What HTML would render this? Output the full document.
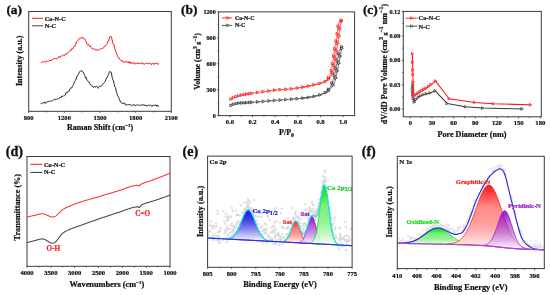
<!DOCTYPE html>
<html><head><meta charset="utf-8"><style>
html,body{margin:0;padding:0;background:#fff;}
svg{display:block;filter:blur(0.4px)}
</style></head><body>
<svg width="550" height="295" viewBox="0 0 550 295" style="font-family:'Liberation Serif',serif;font-weight:bold">
<rect width="550" height="295" fill="#fff"/>
<defs><linearGradient id="pb" x1="0" y1="0" x2="0" y2="1"><stop offset="0" stop-color="#1414e0"/><stop offset="0.35" stop-color="#1414e0" stop-opacity="0.78"/><stop offset="1" stop-color="#ffffff" stop-opacity="0.95"/></linearGradient><linearGradient id="pr" x1="0" y1="0" x2="0" y2="1"><stop offset="0" stop-color="#ff1a1a"/><stop offset="0.35" stop-color="#ff1a1a" stop-opacity="0.55"/><stop offset="1" stop-color="#ffffff" stop-opacity="0.95"/></linearGradient><linearGradient id="pp" x1="0" y1="0" x2="0" y2="1"><stop offset="0" stop-color="#8a18cc"/><stop offset="0.35" stop-color="#8a18cc" stop-opacity="0.68"/><stop offset="1" stop-color="#ffffff" stop-opacity="0.95"/></linearGradient><linearGradient id="pg" x1="0" y1="0" x2="0" y2="1"><stop offset="0" stop-color="#00e000"/><stop offset="0.35" stop-color="#00e000" stop-opacity="0.5"/><stop offset="1" stop-color="#ffffff" stop-opacity="0.95"/></linearGradient><linearGradient id="fg" x1="0" y1="0" x2="0" y2="1"><stop offset="0" stop-color="#00e000"/><stop offset="0.35" stop-color="#00e000" stop-opacity="0.5"/><stop offset="1" stop-color="#ffffff" stop-opacity="0.95"/></linearGradient><linearGradient id="fr" x1="0" y1="0" x2="0" y2="1"><stop offset="0" stop-color="#ff1414"/><stop offset="0.35" stop-color="#ff1414" stop-opacity="0.48"/><stop offset="1" stop-color="#ffffff" stop-opacity="0.95"/></linearGradient><linearGradient id="fp" x1="0" y1="0" x2="0" y2="1"><stop offset="0" stop-color="#9414cc"/><stop offset="0.35" stop-color="#9414cc" stop-opacity="0.58"/><stop offset="1" stop-color="#ffffff" stop-opacity="0.95"/></linearGradient></defs>
<text x="6.4" y="14.25" font-size="13.4" text-anchor="start" fill="#111" stroke="#111" stroke-width="0.35" >(a)</text><rect x="28.7" y="11.5" width="142.6" height="99.8" fill="none" stroke="#3a3a3a" stroke-width="1"/><text x="28.7" y="119.8" font-size="6.6" text-anchor="middle" fill="#111" stroke="#111" stroke-width="0.22" >900</text><text x="64.35" y="119.8" font-size="6.6" text-anchor="middle" fill="#111" stroke="#111" stroke-width="0.22" >1200</text><text x="100" y="119.8" font-size="6.6" text-anchor="middle" fill="#111" stroke="#111" stroke-width="0.22" >1500</text><text x="135.65" y="119.8" font-size="6.6" text-anchor="middle" fill="#111" stroke="#111" stroke-width="0.22" >1800</text><text x="171.3" y="119.8" font-size="6.6" text-anchor="middle" fill="#111" stroke="#111" stroke-width="0.22" >2100</text><path d="M28.7,111.3 v1.6 M64.35,111.3 v1.6 M100,111.3 v1.6 M135.65,111.3 v1.6 M171.3,111.3 v1.6 M46.52,111.3 v1.1199999999999999 M82.17,111.3 v1.1199999999999999 M117.82,111.3 v1.1199999999999999 M153.47,111.3 v1.1199999999999999 " stroke="#3a3a3a" stroke-width="0.8" fill="none"/><text x="100.1" y="130" font-size="8" text-anchor="middle" fill="#111" stroke="#111" stroke-width="0.22" >Raman Shift (cm<tspan font-size="5" dy="-3">&#8722;1</tspan><tspan dy="3">)</tspan></text><text x="0" y="0" font-size="8.1" text-anchor="middle" fill="#111" stroke="#111" stroke-width="0.22" transform="translate(21.6,60.8) rotate(-90)">Intensity (a.u.)</text><path d="M32,18.3 h11" stroke="#ff1414" stroke-width="1"/><path d="M32,25.8 h11" stroke="#444" stroke-width="1"/><text x="44.8" y="20.7" font-size="6.3" text-anchor="start" fill="#111" stroke="#111" stroke-width="0.22" >Co-N-C</text><text x="44.8" y="27.8" font-size="6.3" text-anchor="start" fill="#111" stroke="#111" stroke-width="0.22" >N-C</text><path d="M40.7,62.7 L41.4,62.73 L42.1,62.23 L42.8,61.71 L43.5,61.82 L44.2,61.34 L44.9,61.81 L45.6,62.42 L46.3,61.16 L47,60.93 L47.7,61.44 L48.4,61.2 L49.1,60.9 L49.8,60.13 L50.5,60.52 L51.2,60.8 L51.9,59.42 L52.6,59.78 L53.3,58.73 L54,58.9 L54.7,58.36 L55.4,59.1 L56.1,58.23 L56.8,58.88 L57.5,58.52 L58.2,58.01 L58.9,56.29 L59.6,57.15 L60.3,57.11 L61,56.87 L61.7,55.54 L62.4,55.81 L63.1,55.15 L63.8,54.87 L64.5,55.59 L65.2,54.06 L65.9,54.09 L66.6,54.19 L67.3,52.83 L68,52.61 L68.7,52.19 L69.4,51.55 L70.1,50.13 L70.8,50.24 L71.5,50.32 L72.2,47.88 L72.9,48.6 L73.6,47.37 L74.3,46.02 L75,46.47 L75.7,44.42 L76.4,41.95 L77.1,41.51 L77.8,40.64 L78.5,39.28 L79.2,39.09 L79.9,38.06 L80.6,38.17 L81.3,38.43 L82,37.03 L82.7,37.55 L83.4,37.67 L84.1,38.88 L84.8,38.97 L85.5,40.45 L86.2,41.93 L86.9,43.76 L87.6,44.82 L88.3,44.14 L89,45.22 L89.7,46.79 L90.4,45.84 L91.1,47.31 L91.8,47.98 L92.5,49.14 L93.2,49.12 L93.9,48.81 L94.6,49.06 L95.3,49.37 L96,50.64 L96.7,49.62 L97.4,49.79 L98.1,50.21 L98.8,49.84 L99.5,49.59 L100.2,48.75 L100.9,49.09 L101.6,48.48 L102.3,49.04 L103,48.21 L103.7,47.2 L104.4,46.95 L105.1,45.62 L105.8,45.67 L106.5,44.13 L107.2,43.45 L107.9,41.22 L108.6,41.03 L109.3,38.16 L110,36.23 L110.7,36.34 L111.4,36.85 L112.1,39.8 L112.8,43.24 L113.5,43.65 L114.2,46.12 L114.9,48.85 L115.6,51.03 L116.3,52.62 L117,54.5 L117.7,56.72 L118.4,57.96 L119.1,58.05 L119.8,59.49 L120.5,60.26 L121.2,60.09 L121.9,61.25 L122.6,60.88 L123.3,62.23 L124,61.97 L124.7,62.07 L125.4,61.81 L126.1,62.24 L126.8,61.24 L127.5,61.88 L128.2,62.89 L128.9,61.5 L129.6,63.37 L130.3,61.9 L131,63.47 L131.7,62.57 L132.4,63.6 L133.1,63.26 L133.8,62.3 L134.5,64.01 L135.2,64.17 L135.9,63.3 L136.6,63.21 L137.3,63.31 L138,62.85 L138.7,64.12 L139.4,63.16 L140.1,63.47 L140.8,63.05 L141.5,63.17 L142.2,62.8 L142.9,64.34 L143.6,63.52 L144.3,64.21 L145,63.66 L145.7,63.25 L146.4,63.49 L147.1,63.37 L147.8,63.73 L148.5,63.52 L149.2,63.58 L149.9,62.95 L150.6,63.31 L151.3,64.8 L152,63.42 L152.7,63.2 L153.4,64.05 L154.1,64.7 L154.8,63 L155.5,63.75 L156.2,63.51 L156.9,62.83 L157.6,64.34 L158.3,63.88 L159,63.94" stroke="#ff1414" stroke-width="1.0" fill="none" stroke-linejoin="round"/><path d="M40.7,103.35 L41.4,103.9 L42.1,103.13 L42.8,103.19 L43.5,102.42 L44.2,102.17 L44.9,103.51 L45.6,102.2 L46.3,102.48 L47,102.07 L47.7,101.62 L48.4,101.36 L49.1,101.82 L49.8,101.04 L50.5,100.91 L51.2,100.78 L51.9,101.24 L52.6,100.71 L53.3,100.3 L54,99.5 L54.7,98.77 L55.4,99.92 L56.1,99.68 L56.8,98.76 L57.5,98.9 L58.2,98.76 L58.9,98.49 L59.6,98.23 L60.3,97.08 L61,97.91 L61.7,95.88 L62.4,96.72 L63.1,96.03 L63.8,95.75 L64.5,95.83 L65.2,95.04 L65.9,92.89 L66.6,92 L67.3,92.92 L68,91.22 L68.7,91.18 L69.4,91.01 L70.1,88.78 L70.8,87.68 L71.5,88.16 L72.2,86.89 L72.9,85.46 L73.6,84.34 L74.3,82.47 L75,80.67 L75.7,80.02 L76.4,77.98 L77.1,75.85 L77.8,75.48 L78.5,73.79 L79.2,72.92 L79.9,71.27 L80.6,71.08 L81.3,70.63 L82,70.79 L82.7,72.09 L83.4,72.4 L84.1,74.2 L84.8,75.67 L85.5,78.15 L86.2,77.33 L86.9,79.92 L87.6,80.54 L88.3,81.72 L89,81.9 L89.7,83.41 L90.4,84.87 L91.1,84.97 L91.8,85.64 L92.5,85.97 L93.2,87.35 L93.9,87.09 L94.6,86.14 L95.3,87.31 L96,86.7 L96.7,85.94 L97.4,87.44 L98.1,88.33 L98.8,87.25 L99.5,86.16 L100.2,85.92 L100.9,86.68 L101.6,85.47 L102.3,84.68 L103,83.82 L103.7,83.02 L104.4,82.51 L105.1,81.21 L105.8,79.76 L106.5,77.7 L107.2,77.34 L107.9,75.3 L108.6,74.74 L109.3,71.79 L110,71.53 L110.7,71.83 L111.4,72.83 L112.1,77.16 L112.8,79.39 L113.5,80.92 L114.2,84.55 L114.9,87.07 L115.6,87.68 L116.3,91.73 L117,93.75 L117.7,95.84 L118.4,96.84 L119.1,98.76 L119.8,100.09 L120.5,101.96 L121.2,102.18 L121.9,102.57 L122.6,103.99 L123.3,103.13 L124,103.51 L124.7,102.83 L125.4,105.02 L126.1,104.8 L126.8,104.89 L127.5,104.85 L128.2,104.62 L128.9,104.77 L129.6,104.56 L130.3,104.66 L131,104.87 L131.7,105.79 L132.4,105.26 L133.1,104.93 L133.8,104.65 L134.5,104.64 L135.2,106.01 L135.9,105.38 L136.6,105.14 L137.3,104.92 L138,104.48 L138.7,105.12 L139.4,105.71 L140.1,104.97 L140.8,105.09 L141.5,105.11 L142.2,105.33 L142.9,104.32 L143.6,105.16 L144.3,104.8 L145,105.86 L145.7,104.89 L146.4,105.72 L147.1,106.3 L147.8,105.21 L148.5,105.06 L149.2,105.55 L149.9,105.45 L150.6,104.87 L151.3,105.76 L152,106.7 L152.7,105.35 L153.4,105.4 L154.1,104.9 L154.8,105.73 L155.5,104.81 L156.2,104.9 L156.9,106.34 L157.6,105.04 L158.3,106.24 L159,106.51" stroke="#2a2a2a" stroke-width="1.0" fill="none" stroke-linejoin="round"/><text x="181.1" y="14.25" font-size="13.4" text-anchor="start" fill="#111" stroke="#111" stroke-width="0.35" >(b)</text><rect x="218.6" y="11.9" width="136" height="103.7" fill="none" stroke="#3a3a3a" stroke-width="1"/><text x="229.9" y="124.2" font-size="6.6" text-anchor="middle" fill="#111" stroke="#111" stroke-width="0.22" >0.0</text><text x="252.56" y="124.2" font-size="6.6" text-anchor="middle" fill="#111" stroke="#111" stroke-width="0.22" >0.2</text><text x="275.22" y="124.2" font-size="6.6" text-anchor="middle" fill="#111" stroke="#111" stroke-width="0.22" >0.4</text><text x="297.88" y="124.2" font-size="6.6" text-anchor="middle" fill="#111" stroke="#111" stroke-width="0.22" >0.6</text><text x="320.54" y="124.2" font-size="6.6" text-anchor="middle" fill="#111" stroke="#111" stroke-width="0.22" >0.8</text><text x="343.2" y="124.2" font-size="6.6" text-anchor="middle" fill="#111" stroke="#111" stroke-width="0.22" >1.0</text><path d="M229.9,115.6 v1.6 M252.56,115.6 v1.6 M275.22,115.6 v1.6 M297.88,115.6 v1.6 M320.54,115.6 v1.6 M343.2,115.6 v1.6 M241.23,115.6 v1.1199999999999999 M263.89,115.6 v1.1199999999999999 M286.55,115.6 v1.1199999999999999 M309.21,115.6 v1.1199999999999999 M331.87,115.6 v1.1199999999999999 " stroke="#3a3a3a" stroke-width="0.8" fill="none"/><text x="215.8" y="117.7" font-size="6.2" text-anchor="end" fill="#111" stroke="#111" stroke-width="0.22" >0</text><text x="215.8" y="91.77" font-size="6.2" text-anchor="end" fill="#111" stroke="#111" stroke-width="0.22" >300</text><text x="215.8" y="65.85" font-size="6.2" text-anchor="end" fill="#111" stroke="#111" stroke-width="0.22" >600</text><text x="215.8" y="39.92" font-size="6.2" text-anchor="end" fill="#111" stroke="#111" stroke-width="0.22" >900</text><text x="215.8" y="14" font-size="6.2" text-anchor="end" fill="#111" stroke="#111" stroke-width="0.22" >1200</text><path d="M218.6,115.6 h-1.6 M218.6,89.67 h-1.6 M218.6,63.75 h-1.6 M218.6,37.82 h-1.6 M218.6,11.9 h-1.6 M218.6,102.64 h-1.1199999999999999 M218.6,76.71 h-1.1199999999999999 M218.6,50.79 h-1.1199999999999999 M218.6,24.86 h-1.1199999999999999 " stroke="#3a3a3a" stroke-width="0.8" fill="none"/><text x="286.6" y="135.3" font-size="8" text-anchor="middle" fill="#111" stroke="#111" stroke-width="0.22" >P/P<tspan font-size="6" dy="1.5">0</tspan></text><text x="0" y="0" font-size="8" text-anchor="middle" fill="#111" stroke="#111" stroke-width="0.22" transform="translate(200.4,61.5) rotate(-90)">Volume (cm<tspan font-size="5.5" dy="-3">3</tspan><tspan dy="3" font-size="6"> g</tspan><tspan font-size="5.5" dy="-3.5">&#8722;1</tspan><tspan dy="3.5">)</tspan></text><path d="M221.8,17.9 h10.3" stroke="#ff1414" stroke-width="0.9"/><path d="M226.74,16.5 L229.4,17.9 L226.74,19.3 Z " fill="#fff" fill-opacity="0.5" stroke="#ff1414" stroke-width="0.75"/><path d="M221.8,25.4 h10.3" stroke="#444" stroke-width="0.9"/><path d="M226.74,24 L229.4,25.4 L226.74,26.8 Z " fill="#fff" fill-opacity="0.5" stroke="#444" stroke-width="0.75"/><text x="234.9" y="20.05" font-size="5.9" text-anchor="start" fill="#111" stroke="#111" stroke-width="0.22" >Co-N-C</text><text x="234.9" y="27.25" font-size="5.9" text-anchor="start" fill="#111" stroke="#111" stroke-width="0.22" >N-C</text><path d="M231.1,99.2 L231.41,98.93 L231.73,98.66 L232.06,98.41 L232.39,98.17 L232.72,97.95 L233.07,97.76 L233.43,97.59 L233.79,97.42 L234.16,97.26 L234.53,97.1 L234.91,96.95 L235.3,96.81 L235.69,96.68 L236.08,96.55 L236.47,96.42 L236.86,96.3 L237.26,96.18 L237.65,96.06 L238.05,95.95 L238.44,95.84 L238.83,95.74 L239.22,95.63 L239.62,95.53 L240.01,95.44 L240.41,95.34 L240.8,95.25 L241.2,95.16 L241.6,95.07 L242,94.99 L242.4,94.9 L242.8,94.82 L243.2,94.74 L243.6,94.66 L244,94.59 L244.4,94.51 L244.8,94.44 L245.2,94.36 L245.6,94.29 L246,94.22 L246.4,94.16 L246.8,94.09 L247.2,94.03 L247.61,93.96 L248.01,93.9 L248.41,93.84 L248.81,93.78 L249.22,93.72 L249.62,93.66 L250.02,93.6 L250.43,93.54 L250.83,93.49 L251.23,93.43 L251.63,93.37 L252.04,93.31 L252.44,93.25 L252.84,93.19 L253.25,93.13 L253.65,93.07 L254.05,93.01 L254.45,92.96 L254.86,92.9 L255.26,92.84 L255.66,92.78 L256.07,92.72 L256.47,92.67 L256.87,92.61 L257.27,92.55 L257.68,92.49 L258.08,92.44 L258.48,92.38 L258.89,92.33 L259.29,92.27 L259.69,92.21 L260.1,92.16 L260.5,92.1 L260.9,92.05 L261.31,91.99 L261.71,91.94 L262.11,91.88 L262.52,91.83 L262.92,91.77 L263.32,91.72 L263.73,91.66 L264.13,91.61 L264.53,91.55 L264.94,91.5 L265.34,91.45 L265.74,91.39 L266.15,91.34 L266.55,91.29 L266.95,91.23 L267.36,91.18 L267.76,91.12 L268.16,91.07 L268.57,91.01 L268.97,90.95 L269.37,90.9 L269.78,90.84 L270.18,90.79 L270.58,90.73 L270.99,90.67 L271.39,90.62 L271.8,90.56 L272.2,90.51 L272.6,90.46 L273.01,90.4 L273.41,90.35 L273.81,90.3 L274.22,90.25 L274.62,90.2 L275.03,90.15 L275.43,90.1 L275.83,90.05 L276.24,90.01 L276.64,89.96 L277.05,89.92 L277.45,89.87 L277.86,89.83 L278.26,89.79 L278.67,89.76 L279.07,89.72 L279.48,89.69 L279.88,89.65 L280.29,89.62 L280.69,89.59 L281.1,89.56 L281.5,89.54 L281.91,89.51 L282.32,89.49 L282.72,89.46 L283.13,89.44 L283.54,89.42 L283.94,89.39 L284.35,89.37 L284.76,89.35 L285.16,89.33 L285.57,89.3 L285.98,89.28 L286.39,89.26 L286.79,89.23 L287.2,89.21 L287.6,89.18 L288.01,89.16 L288.42,89.13 L288.82,89.1 L289.23,89.07 L289.63,89.03 L290.04,89 L290.44,88.96 L290.84,88.92 L291.25,88.88 L291.65,88.84 L292.06,88.79 L292.46,88.75 L292.87,88.7 L293.27,88.65 L293.67,88.6 L294.08,88.55 L294.48,88.5 L294.88,88.45 L295.29,88.39 L295.69,88.33 L296.09,88.28 L296.5,88.22 L296.9,88.16 L297.3,88.1 L297.71,88.03 L298.11,87.97 L298.51,87.91 L298.92,87.84 L299.32,87.78 L299.72,87.71 L300.12,87.64 L300.52,87.57 L300.93,87.51 L301.33,87.44 L301.73,87.37 L302.13,87.3 L302.53,87.23 L302.93,87.15 L303.33,87.08 L303.73,87.01 L304.14,86.94 L304.54,86.87 L304.94,86.79 L305.34,86.72 L305.74,86.65 L306.14,86.58 L306.53,86.5 L306.93,86.42 L307.33,86.34 L307.73,86.26 L308.13,86.18 L308.53,86.1 L308.93,86.01 L309.32,85.92 L309.72,85.84 L310.12,85.75 L310.52,85.66 L310.91,85.57 L311.31,85.47 L311.71,85.38 L312.1,85.29 L312.5,85.19 L312.9,85.1 L313.29,85.01 L313.69,84.91 L314.08,84.82 L314.48,84.72 L314.88,84.63 L315.27,84.54 L315.67,84.44 L316.07,84.35 L316.47,84.27 L316.87,84.18 L317.27,84.09 L317.66,84 L318.06,83.91 L318.46,83.82 L318.86,83.72 L319.26,83.63 L319.65,83.53 L320.05,83.43 L320.44,83.32 L320.83,83.22 L321.22,83.11 L321.61,82.99 L321.99,82.87 L322.37,82.74 L322.76,82.61 L323.14,82.47 L323.53,82.32 L323.91,82.17 L324.3,82.01 L324.68,81.85 L325.05,81.67 L325.42,81.49 L325.79,81.31 L326.14,81.12 L326.49,80.92 L326.83,80.71 L327.16,80.5 L327.48,80.27 L327.81,80.02 L328.13,79.76 L328.44,79.49 L328.75,79.21 L329.05,78.91 L329.35,78.61 L329.63,78.31 L329.89,78 L330.15,77.68 L330.39,77.36 L330.61,77.04 L330.83,76.71 L331.04,76.37 L331.25,76.03 L331.45,75.67 L331.65,75.31 L331.84,74.94 L332.03,74.57 L332.21,74.19 L332.38,73.81 L332.54,73.43 L332.69,73.04 L332.84,72.66 L332.97,72.27 L333.09,71.88 L333.2,71.5 L333.3,71.12 L333.4,70.73 L333.49,70.34 L333.58,69.95 L333.67,69.56 L333.75,69.17 L333.83,68.77 L333.91,68.37 L333.98,67.97 L334.05,67.57 L334.12,67.17 L334.19,66.77 L334.26,66.36 L334.32,65.96 L334.38,65.55 L334.44,65.15 L334.5,64.74 L334.56,64.33 L334.62,63.93 L334.68,63.52 L334.74,63.11 L334.79,62.7 L334.85,62.3 L334.91,61.89 L334.97,61.49 L335.03,61.08 L335.09,60.68 L335.16,60.27 L335.22,59.87 L335.28,59.47 L335.35,59.07 L335.41,58.67 L335.47,58.26 L335.53,57.86 L335.59,57.46 L335.65,57.06 L335.71,56.65 L335.77,56.25 L335.83,55.85 L335.89,55.44 L335.95,55.04 L336,54.64 L336.06,54.24 L336.12,53.83 L336.18,53.43 L336.24,53.03 L336.29,52.62 L336.35,52.22 L336.41,51.82 L336.47,51.42 L336.53,51.01 L336.59,50.61 L336.65,50.21 L336.71,49.81 L336.78,49.4 L336.84,49 L336.9,48.6 L336.97,48.2 L337.03,47.8 L337.1,47.4 L337.17,46.99 L337.24,46.59 L337.31,46.19 L337.38,45.79 L337.45,45.39 L337.52,44.99 L337.6,44.59 L337.67,44.19 L337.74,43.79 L337.82,43.39 L337.89,42.99 L337.97,42.59 L338.04,42.19 L338.12,41.79 L338.19,41.39 L338.26,40.99 L338.34,40.59 L338.41,40.19 L338.48,39.79 L338.56,39.39 L338.63,38.98 L338.7,38.58 L338.77,38.18 L338.84,37.78 L338.9,37.38 L338.97,36.97 L339.03,36.56 L339.08,36.15 L339.14,35.73 L339.19,35.32 L339.24,34.9 L339.29,34.48 L339.34,34.06 L339.39,33.64 L339.44,33.21 L339.48,32.79 L339.53,32.37 L339.57,31.94 L339.62,31.52 L339.67,31.1 L339.71,30.67 L339.76,30.25 L339.81,29.83 L339.86,29.41 L339.91,28.99 L339.96,28.58 L340.01,28.16 L340.07,27.75 L340.12,27.34 L340.18,26.94 L340.25,26.53 L340.31,26.13 L340.38,25.74 L340.45,25.34 L340.53,24.95 L340.61,24.57 L340.69,24.19 L340.78,23.81 L340.87,23.44 L340.97,23.07 L341.07,22.71 L341.18,22.36 L341.29,22.01 L341.4,21.66 L341.53,21.33 L341.72,21 L341.98,20.69 L342.28,20.39 L342.59,20.09 L342.9,19.8" stroke="#ff1414" stroke-width="0.85" fill="none"/><path d="M300.12,87.64 L300.52,87.57 L300.93,87.51 L301.33,87.44 L301.73,87.37 L302.13,87.3 L302.53,87.23 L302.93,87.15 L303.33,87.08 L303.73,87.01 L304.14,86.94 L304.54,86.87 L304.94,86.79 L305.34,86.72 L305.74,86.65 L306.14,86.58 L306.53,86.5 L306.93,86.42 L307.33,86.34 L307.73,86.26 L308.13,86.18 L308.53,86.1 L308.93,86.01 L309.32,85.92 L309.72,85.84 L310.12,85.75 L310.52,85.66 L310.91,85.57 L311.31,85.47 L311.71,85.38 L312.1,85.29 L312.5,85.19 L312.9,85.1 L313.29,85.01 L313.69,84.91 L314.08,84.82 L314.48,84.72 L314.88,84.63 L315.27,84.54 L315.67,84.44 L316.07,84.35 L316.47,84.27 L316.87,84.18 L317.27,84.09 L317.66,84 L318.06,83.91 L318.46,83.82 L318.86,83.72 L319.26,83.63 L319.65,83.53 L320.05,83.43 L320.42,83.32 L320.78,83.21 L321.14,83.09 L321.49,82.97 L321.83,82.84 L322.17,82.71 L322.52,82.57 L322.86,82.43 L323.2,82.27 L323.53,82.11 L323.87,81.95 L324.2,81.77 L324.52,81.59 L324.84,81.41 L325.15,81.21 L325.46,81.01 L325.76,80.81 L326.04,80.59 L326.32,80.37 L326.6,80.13 L326.87,79.88 L327.14,79.61 L327.41,79.33 L327.67,79.04 L327.92,78.74 L328.16,78.44 L328.4,78.12 L328.62,77.8 L328.83,77.48 L329.03,77.16 L329.21,76.83 L329.39,76.5 L329.57,76.15 L329.74,75.8 L329.91,75.44 L330.08,75.07 L330.23,74.7 L330.39,74.32 L330.53,73.94 L330.67,73.55 L330.81,73.17 L330.93,72.78 L331.05,72.39 L331.16,72 L331.26,71.61 L331.35,71.22 L331.43,70.84 L331.51,70.45 L331.59,70.06 L331.66,69.67 L331.73,69.27 L331.8,68.87 L331.86,68.48 L331.93,68.08 L331.99,67.67 L332.05,67.27 L332.12,66.87 L332.19,66.47 L332.26,66.06 L332.32,65.66 L332.38,65.25 L332.44,64.85 L332.5,64.44 L332.56,64.03 L332.62,63.63 L332.68,63.22 L332.74,62.81 L332.79,62.4 L332.85,62 L332.91,61.59 L332.97,61.19 L333.03,60.78 L333.09,60.38 L333.16,59.97 L333.22,59.57 L333.28,59.17 L333.35,58.77 L333.41,58.37 L333.47,57.96 L333.53,57.56 L333.59,57.16 L333.65,56.76 L333.71,56.35 L333.77,55.95 L333.83,55.55 L333.89,55.14 L333.95,54.74 L334,54.34 L334.06,53.94 L334.12,53.53 L334.18,53.13 L334.24,52.73 L334.29,52.32 L334.35,51.92 L334.41,51.52 L334.47,51.12 L334.53,50.71 L334.59,50.31 L334.65,49.91 L334.71,49.51 L334.78,49.1 L334.84,48.7 L334.9,48.3 L334.97,47.9 L335.03,47.5 L335.1,47.1 L335.17,46.69 L335.24,46.29 L335.31,45.89 L335.38,45.49 L335.45,45.09 L335.52,44.69 L335.6,44.29 L335.67,43.89 L335.74,43.49 L335.82,43.09 L335.89,42.69 L335.97,42.29 L336.04,41.89 L336.12,41.49 L336.19,41.09 L336.26,40.69 L336.34,40.29 L336.41,39.89 L336.48,39.49 L336.56,39.09 L336.63,38.68 L336.7,38.28 L336.77,37.88 L336.84,37.48 L336.9,37.08 L336.97,36.67 L337.03,36.26 L337.08,35.85 L337.14,35.43 L337.19,35.02 L337.24,34.6 L337.29,34.18 L337.34,33.76 L337.39,33.34 L337.44,32.91 L337.48,32.49 L337.53,32.07 L337.57,31.64 L337.62,31.22 L337.67,30.8 L337.71,30.37 L337.76,29.95 L337.81,29.53 L337.86,29.11 L337.91,28.69 L337.96,28.28 L338.01,27.86 L338.07,27.45 L338.12,27.04 L338.18,26.64 L338.25,26.23 L338.31,25.83 L338.38,25.44 L338.45,25.04 L338.53,24.65 L338.61,24.27 L338.69,23.89 L338.78,23.51 L338.87,23.14 L338.97,22.77 L339.07,22.41 L339.18,22.06 L339.38,21.72 L339.61,21.39 L339.86,21.07 L340.24,20.78 L340.76,20.51 L341.36,20.25 L341.99,20 L342.6,19.76" stroke="#ff1414" stroke-width="0.85" fill="none"/><path d="M229.79,97.75 L232.55,99.2 L229.79,100.65 Z M232.12,96.14 L234.88,97.59 L232.12,99.04 Z M234.77,95.1 L237.53,96.55 L234.77,98 Z M237.53,94.29 L240.28,95.74 L237.53,97.19 Z M240.29,93.62 L243.05,95.07 L240.29,96.52 Z M243.09,93.06 L245.85,94.51 L243.09,95.96 Z M245.5,92.64 L248.25,94.09 L245.5,95.54 Z M248.31,92.21 L251.07,93.66 L248.31,95.11 Z M250.73,91.86 L253.49,93.31 L250.73,94.76 Z M256.37,91.04 L259.13,92.49 L256.37,93.94 Z M262.02,90.27 L264.77,91.72 L262.02,93.17 Z M267.67,89.5 L270.42,90.95 L267.67,92.4 Z M273.32,88.75 L276.07,90.2 L273.32,91.65 Z M278.98,88.17 L281.74,89.62 L278.98,91.07 Z M284.67,87.83 L287.43,89.28 L284.67,90.73 Z M290.35,87.39 L293.1,88.84 L290.35,90.29 Z M296,86.65 L298.75,88.1 L296,89.55 Z M301.63,85.7 L304.38,87.15 L301.63,88.6 Z M307.22,84.65 L309.98,86.1 L307.22,87.55 Z M312.78,83.37 L315.53,84.82 L312.78,86.27 Z M318.74,81.98 L321.5,83.43 L318.74,84.88 Z M324.12,80.04 L326.87,81.49 L324.12,82.94 Z M327.45,77.76 L330.2,79.21 L327.45,80.66 Z M331.39,71.59 L334.14,73.04 L331.39,74.49 Z M333.08,64.1 L335.83,65.55 L333.08,67 Z M334.17,56.81 L336.92,58.26 L334.17,59.71 Z M335.29,49.16 L338.04,50.61 L335.29,52.06 Z M336.51,41.94 L339.27,43.39 L336.51,44.84 Z M337.78,34.7 L340.53,36.15 L337.78,37.6 Z M338.65,27.13 L341.41,28.58 L338.65,30.03 Z M340.23,19.88 L342.98,21.33 L340.23,22.78 Z M327.32,76.35 L330.07,77.8 L327.32,79.25 Z M330.13,69.39 L332.88,70.84 L330.13,72.29 Z M331.32,62.18 L334.07,63.63 L331.32,65.08 Z M332.47,54.5 L335.22,55.95 L332.47,57.4 Z M333.53,47.25 L336.29,48.7 L333.53,50.15 Z M334.89,39.64 L337.64,41.09 L334.89,42.54 Z M336.04,32.31 L338.79,33.76 L336.04,35.21 Z M336.94,24.78 L339.7,26.23 L336.94,27.68 Z M340.05,18.8 L342.81,20.25 L340.05,21.7 Z " fill="#fff" fill-opacity="0.55" stroke="#ff1414" stroke-width="0.8"/><path d="M231.1,105.5 L231.42,105.31 L231.73,105.11 L232.06,104.93 L232.38,104.76 L232.71,104.61 L233.05,104.48 L233.39,104.37 L233.73,104.26 L234.08,104.15 L234.43,104.04 L234.79,103.95 L235.14,103.85 L235.5,103.76 L235.86,103.67 L236.22,103.59 L236.59,103.52 L236.95,103.45 L237.31,103.38 L237.68,103.32 L238.04,103.27 L238.4,103.22 L238.76,103.18 L239.12,103.14 L239.49,103.11 L239.85,103.07 L240.21,103.04 L240.57,103 L240.94,102.97 L241.3,102.94 L241.67,102.92 L242.03,102.89 L242.4,102.86 L242.76,102.84 L243.13,102.81 L243.49,102.79 L243.86,102.77 L244.22,102.75 L244.59,102.73 L244.96,102.71 L245.32,102.69 L245.69,102.67 L246.06,102.65 L246.43,102.63 L246.79,102.61 L247.16,102.59 L247.53,102.57 L247.9,102.55 L248.26,102.53 L248.63,102.51 L249,102.49 L249.36,102.47 L249.73,102.45 L250.1,102.43 L250.46,102.41 L250.83,102.39 L251.2,102.36 L251.56,102.34 L251.93,102.31 L252.29,102.29 L252.66,102.26 L253.02,102.23 L253.39,102.2 L253.76,102.18 L254.12,102.15 L254.49,102.12 L254.85,102.09 L255.22,102.06 L255.58,102.03 L255.95,102 L256.31,101.97 L256.68,101.95 L257.04,101.92 L257.41,101.89 L257.77,101.86 L258.14,101.83 L258.5,101.8 L258.87,101.77 L259.23,101.74 L259.6,101.71 L259.97,101.67 L260.33,101.64 L260.7,101.61 L261.06,101.58 L261.43,101.55 L261.79,101.52 L262.16,101.49 L262.52,101.46 L262.89,101.43 L263.25,101.4 L263.62,101.37 L263.98,101.34 L264.35,101.31 L264.71,101.28 L265.08,101.25 L265.44,101.22 L265.81,101.19 L266.17,101.16 L266.54,101.13 L266.9,101.1 L267.27,101.07 L267.63,101.04 L268,101.01 L268.37,100.98 L268.73,100.95 L269.1,100.92 L269.46,100.89 L269.83,100.86 L270.19,100.83 L270.56,100.8 L270.92,100.77 L271.29,100.74 L271.65,100.71 L272.02,100.68 L272.38,100.65 L272.75,100.62 L273.11,100.59 L273.48,100.56 L273.84,100.53 L274.21,100.51 L274.57,100.48 L274.94,100.45 L275.3,100.42 L275.67,100.39 L276.04,100.36 L276.4,100.33 L276.77,100.3 L277.13,100.27 L277.5,100.24 L277.86,100.21 L278.23,100.18 L278.59,100.16 L278.96,100.13 L279.32,100.1 L279.69,100.07 L280.05,100.04 L280.42,100.01 L280.78,99.99 L281.15,99.96 L281.52,99.93 L281.88,99.91 L282.25,99.88 L282.61,99.85 L282.98,99.83 L283.34,99.8 L283.71,99.77 L284.07,99.75 L284.44,99.72 L284.81,99.7 L285.17,99.67 L285.54,99.64 L285.9,99.62 L286.27,99.59 L286.63,99.56 L287,99.53 L287.36,99.51 L287.73,99.48 L288.09,99.45 L288.46,99.42 L288.83,99.39 L289.19,99.37 L289.56,99.34 L289.92,99.31 L290.29,99.28 L290.65,99.25 L291.02,99.22 L291.38,99.19 L291.75,99.16 L292.11,99.13 L292.48,99.1 L292.84,99.07 L293.21,99.04 L293.57,99.01 L293.94,98.98 L294.31,98.95 L294.67,98.92 L295.04,98.89 L295.4,98.86 L295.77,98.83 L296.13,98.8 L296.5,98.77 L296.87,98.74 L297.23,98.7 L297.6,98.67 L297.96,98.64 L298.33,98.61 L298.69,98.58 L299.06,98.54 L299.42,98.51 L299.79,98.47 L300.15,98.44 L300.52,98.41 L300.88,98.37 L301.25,98.33 L301.61,98.3 L301.98,98.26 L302.34,98.22 L302.7,98.18 L303.07,98.14 L303.43,98.1 L303.8,98.06 L304.16,98.02 L304.52,97.98 L304.89,97.94 L305.25,97.89 L305.61,97.85 L305.97,97.8 L306.34,97.76 L306.7,97.71 L307.06,97.66 L307.43,97.61 L307.79,97.55 L308.15,97.5 L308.51,97.44 L308.88,97.39 L309.24,97.33 L309.6,97.27 L309.96,97.2 L310.32,97.14 L310.69,97.08 L311.05,97.01 L311.41,96.94 L311.77,96.87 L312.13,96.8 L312.49,96.73 L312.85,96.66 L313.21,96.59 L313.57,96.51 L313.92,96.44 L314.28,96.36 L314.64,96.28 L314.99,96.2 L315.35,96.12 L315.71,96.04 L316.06,95.95 L316.42,95.87 L316.78,95.78 L317.13,95.68 L317.49,95.59 L317.84,95.49 L318.2,95.4 L318.55,95.29 L318.91,95.19 L319.26,95.09 L319.61,94.98 L319.96,94.87 L320.31,94.76 L320.66,94.64 L321.01,94.52 L321.35,94.41 L321.69,94.28 L322.04,94.16 L322.38,94.03 L322.72,93.9 L323.06,93.77 L323.4,93.63 L323.74,93.48 L324.08,93.33 L324.41,93.18 L324.75,93.02 L325.08,92.86 L325.41,92.69 L325.73,92.52 L326.06,92.35 L326.38,92.17 L326.69,91.99 L327,91.8 L327.3,91.61 L327.61,91.41 L327.92,91.2 L328.22,90.99 L328.52,90.77 L328.82,90.54 L329.11,90.31 L329.39,90.07 L329.67,89.82 L329.94,89.57 L330.2,89.32 L330.44,89.06 L330.68,88.8 L330.92,88.53 L331.14,88.25 L331.37,87.96 L331.59,87.66 L331.81,87.36 L332.02,87.06 L332.22,86.74 L332.43,86.43 L332.62,86.11 L332.81,85.79 L332.99,85.47 L333.17,85.15 L333.34,84.82 L333.5,84.5 L333.66,84.17 L333.81,83.85 L333.96,83.51 L334.11,83.18 L334.25,82.84 L334.39,82.5 L334.53,82.16 L334.66,81.81 L334.79,81.47 L334.92,81.12 L335.04,80.77 L335.16,80.42 L335.27,80.07 L335.38,79.72 L335.49,79.37 L335.59,79.02 L335.69,78.67 L335.79,78.32 L335.88,77.97 L335.97,77.61 L336.06,77.26 L336.15,76.9 L336.23,76.55 L336.31,76.19 L336.39,75.83 L336.47,75.47 L336.55,75.11 L336.63,74.75 L336.7,74.39 L336.78,74.03 L336.85,73.67 L336.92,73.31 L337,72.95 L337.07,72.59 L337.15,72.24 L337.23,71.88 L337.3,71.52 L337.38,71.16 L337.45,70.8 L337.53,70.44 L337.6,70.08 L337.67,69.72 L337.74,69.36 L337.82,69.01 L337.89,68.65 L337.96,68.29 L338.03,67.93 L338.1,67.57 L338.17,67.21 L338.24,66.85 L338.31,66.49 L338.38,66.13 L338.45,65.77 L338.52,65.41 L338.59,65.05 L338.66,64.69 L338.73,64.33 L338.8,63.97 L338.87,63.61 L338.93,63.25 L339,62.89 L339.07,62.53 L339.14,62.17 L339.2,61.81 L339.27,61.45 L339.34,61.09 L339.4,60.73 L339.47,60.37 L339.54,60.01 L339.6,59.65 L339.67,59.29 L339.74,58.93 L339.81,58.57 L339.87,58.21 L339.94,57.85 L340.01,57.49 L340.08,57.13 L340.15,56.77 L340.22,56.41 L340.29,56.05 L340.35,55.69 L340.42,55.32 L340.48,54.96 L340.55,54.6 L340.61,54.24 L340.68,53.88 L340.74,53.51 L340.8,53.15 L340.87,52.79 L340.94,52.43 L341.01,52.07 L341.08,51.71 L341.15,51.35 L341.22,50.99 L341.3,50.63 L341.38,50.28 L341.46,49.92 L341.55,49.57 L341.64,49.21 L341.74,48.86 L341.85,48.52 L341.96,48.17 L342.09,47.83 L342.23,47.48 L342.36,47.14 L342.5,46.8" stroke="#3a3a3a" stroke-width="0.85" fill="none"/><path d="M300.15,98.44 L300.52,98.41 L300.88,98.37 L301.25,98.33 L301.61,98.3 L301.98,98.26 L302.34,98.22 L302.7,98.18 L303.07,98.14 L303.43,98.1 L303.8,98.06 L304.16,98.02 L304.52,97.98 L304.89,97.94 L305.25,97.89 L305.61,97.85 L305.97,97.8 L306.34,97.76 L306.7,97.71 L307.06,97.66 L307.43,97.61 L307.79,97.55 L308.15,97.5 L308.51,97.44 L308.88,97.39 L309.24,97.33 L309.6,97.27 L309.96,97.2 L310.32,97.14 L310.69,97.08 L311.05,97.01 L311.41,96.94 L311.77,96.87 L312.13,96.8 L312.49,96.73 L312.85,96.66 L313.21,96.59 L313.57,96.51 L313.92,96.44 L314.28,96.36 L314.64,96.28 L314.99,96.2 L315.35,96.12 L315.71,96.04 L316.06,95.95 L316.42,95.87 L316.78,95.78 L317.13,95.68 L317.49,95.59 L317.84,95.49 L318.2,95.4 L318.55,95.29 L318.91,95.19 L319.26,95.09 L319.61,94.98 L319.96,94.87 L320.3,94.75 L320.62,94.64 L320.94,94.52 L321.25,94.39 L321.57,94.26 L321.87,94.14 L322.18,94 L322.48,93.87 L322.78,93.73 L323.08,93.58 L323.38,93.43 L323.67,93.27 L323.97,93.11 L324.26,92.95 L324.54,92.78 L324.83,92.61 L325.11,92.43 L325.38,92.25 L325.66,92.06 L325.92,91.87 L326.19,91.68 L326.45,91.48 L326.71,91.27 L326.96,91.06 L327.22,90.84 L327.47,90.61 L327.72,90.37 L327.96,90.13 L328.2,89.89 L328.43,89.64 L328.66,89.38 L328.87,89.12 L329.08,88.86 L329.27,88.59 L329.47,88.31 L329.66,88.02 L329.84,87.73 L330.03,87.43 L330.2,87.12 L330.38,86.81 L330.55,86.49 L330.71,86.17 L330.87,85.85 L331.03,85.52 L331.18,85.2 L331.32,84.87 L331.46,84.54 L331.59,84.21 L331.72,83.88 L331.85,83.55 L331.97,83.22 L332.11,82.88 L332.25,82.54 L332.39,82.2 L332.53,81.86 L332.66,81.51 L332.79,81.17 L332.92,80.82 L333.04,80.47 L333.16,80.12 L333.27,79.77 L333.38,79.42 L333.49,79.07 L333.59,78.72 L333.69,78.37 L333.79,78.02 L333.88,77.67 L333.97,77.31 L334.06,76.96 L334.15,76.6 L334.23,76.25 L334.31,75.89 L334.39,75.53 L334.47,75.17 L334.55,74.81 L334.63,74.45 L334.7,74.09 L334.78,73.73 L334.85,73.37 L334.92,73.01 L335,72.65 L335.07,72.29 L335.15,71.94 L335.23,71.58 L335.3,71.22 L335.38,70.86 L335.45,70.5 L335.53,70.14 L335.6,69.78 L335.67,69.42 L335.74,69.06 L335.82,68.71 L335.89,68.35 L335.96,67.99 L336.03,67.63 L336.1,67.27 L336.17,66.91 L336.24,66.55 L336.31,66.19 L336.38,65.83 L336.45,65.47 L336.52,65.11 L336.59,64.75 L336.66,64.39 L336.73,64.03 L336.8,63.67 L336.87,63.31 L336.93,62.95 L337,62.59 L337.07,62.23 L337.14,61.87 L337.2,61.51 L337.27,61.15 L337.34,60.79 L337.4,60.43 L337.47,60.07 L337.54,59.71 L337.6,59.35 L337.67,58.99 L337.74,58.63 L337.81,58.27 L337.87,57.91 L337.94,57.55 L338.01,57.19 L338.08,56.83 L338.15,56.47 L338.22,56.11 L338.29,55.75 L338.35,55.39 L338.42,55.02 L338.48,54.66 L338.55,54.3 L338.61,53.94 L338.68,53.58 L338.74,53.21 L338.8,52.85 L338.87,52.49 L338.94,52.13 L339.01,51.77 L339.08,51.41 L339.15,51.05 L339.24,50.69 L339.4,50.35 L339.56,50 L339.73,49.66 L339.9,49.32 L340.08,48.98 L340.28,48.64 L340.49,48.31 L340.73,47.98 L340.98,47.66 L341.25,47.34 L341.52,47.02 L341.8,46.69" stroke="#3a3a3a" stroke-width="0.85" fill="none"/><path d="M229.79,104.05 L232.55,105.5 L229.79,106.95 Z M232.08,102.92 L234.84,104.37 L232.08,105.82 Z M234.92,102.14 L237.67,103.59 L234.92,105.04 Z M237.46,101.73 L240.21,103.18 L237.46,104.63 Z M240.36,101.47 L243.12,102.92 L240.36,104.37 Z M242.92,101.3 L245.67,102.75 L242.92,104.2 Z M245.49,101.16 L248.24,102.61 L245.49,104.06 Z M248.43,101 L251.18,102.45 L248.43,103.9 Z M250.62,100.86 L253.38,102.31 L250.62,103.76 Z M256.47,100.41 L259.22,101.86 L256.47,103.31 Z M261.95,99.95 L264.7,101.4 L261.95,102.85 Z M267.79,99.47 L270.55,100.92 L267.79,102.37 Z M273.27,99.03 L276.02,100.48 L273.27,101.93 Z M279.11,98.56 L281.87,100.01 L279.11,101.46 Z M284.6,98.17 L287.35,99.62 L284.6,101.07 Z M290.44,97.71 L293.2,99.16 L290.44,100.61 Z M295.93,97.25 L298.68,98.7 L295.93,100.15 Z M301.76,96.69 L304.52,98.14 L301.76,99.59 Z M307.21,95.99 L309.96,97.44 L307.21,98.89 Z M312.98,94.91 L315.73,96.36 L312.98,97.81 Z M318.66,93.42 L321.41,94.87 L318.66,96.32 Z M324.1,91.24 L326.86,92.69 L324.1,94.14 Z M327.22,89.32 L329.97,90.77 L327.22,92.22 Z M331.86,83.7 L334.62,85.15 L331.86,86.6 Z M334.58,76.52 L337.33,77.97 L334.58,79.42 Z M336.15,69.35 L338.9,70.8 L336.15,72.25 Z M337.63,61.8 L340.38,63.25 L337.63,64.7 Z M338.98,54.6 L341.74,56.05 L338.98,57.5 Z M340.54,47.07 L343.3,48.52 L340.54,49.97 Z M327.35,87.93 L330.11,89.38 L327.35,90.83 Z M330.81,81.43 L333.56,82.88 L330.81,84.33 Z M333.09,74.08 L335.84,75.53 L333.09,76.98 Z M334.58,66.9 L337.34,68.35 L334.58,69.8 Z M336.03,59.34 L338.79,60.79 L336.03,62.24 Z M337.37,52.13 L340.13,53.58 L337.37,55.03 Z M340.5,45.24 L343.25,46.69 L340.5,48.14 Z " fill="#fff" fill-opacity="0.55" stroke="#3a3a3a" stroke-width="0.8"/><text x="362.9" y="14.25" font-size="13.4" text-anchor="start" fill="#111" stroke="#111" stroke-width="0.35" >(c)</text><rect x="403.3" y="11.4" width="138" height="105.4" fill="none" stroke="#3a3a3a" stroke-width="1"/><text x="410.3" y="125.3" font-size="6.6" text-anchor="middle" fill="#111" stroke="#111" stroke-width="0.22" >0</text><text x="431.97" y="125.3" font-size="6.6" text-anchor="middle" fill="#111" stroke="#111" stroke-width="0.22" >30</text><text x="453.63" y="125.3" font-size="6.6" text-anchor="middle" fill="#111" stroke="#111" stroke-width="0.22" >60</text><text x="475.3" y="125.3" font-size="6.6" text-anchor="middle" fill="#111" stroke="#111" stroke-width="0.22" >90</text><text x="496.97" y="125.3" font-size="6.6" text-anchor="middle" fill="#111" stroke="#111" stroke-width="0.22" >120</text><text x="518.63" y="125.3" font-size="6.6" text-anchor="middle" fill="#111" stroke="#111" stroke-width="0.22" >150</text><text x="540.3" y="125.3" font-size="6.6" text-anchor="middle" fill="#111" stroke="#111" stroke-width="0.22" >180</text><path d="M410.3,116.8 v1.6 M431.97,116.8 v1.6 M453.63,116.8 v1.6 M475.3,116.8 v1.6 M496.97,116.8 v1.6 M518.63,116.8 v1.6 M540.3,116.8 v1.6 M421.13,116.8 v1.1199999999999999 M442.8,116.8 v1.1199999999999999 M464.47,116.8 v1.1199999999999999 M486.13,116.8 v1.1199999999999999 M507.8,116.8 v1.1199999999999999 M529.47,116.8 v1.1199999999999999 " stroke="#3a3a3a" stroke-width="0.8" fill="none"/><text x="400.3" y="111.3" font-size="6.2" text-anchor="end" fill="#111" stroke="#111" stroke-width="0.22" >0.00</text><text x="400.3" y="86.85" font-size="6.2" text-anchor="end" fill="#111" stroke="#111" stroke-width="0.22" >0.03</text><text x="400.3" y="62.4" font-size="6.2" text-anchor="end" fill="#111" stroke="#111" stroke-width="0.22" >0.06</text><text x="400.3" y="37.95" font-size="6.2" text-anchor="end" fill="#111" stroke="#111" stroke-width="0.22" >0.09</text><text x="400.3" y="13.5" font-size="6.2" text-anchor="end" fill="#111" stroke="#111" stroke-width="0.22" >0.12</text><path d="M403.3,109.2 h-1.6 M403.3,84.75 h-1.6 M403.3,60.3 h-1.6 M403.3,35.85 h-1.6 M403.3,11.4 h-1.6 M403.3,96.97 h-1.1199999999999999 M403.3,72.53 h-1.1199999999999999 M403.3,48.08 h-1.1199999999999999 M403.3,23.63 h-1.1199999999999999 " stroke="#3a3a3a" stroke-width="0.8" fill="none"/><text x="472" y="137" font-size="8.1" text-anchor="middle" fill="#111" stroke="#111" stroke-width="0.22" >Pore Diameter (nm)</text><text x="0" y="0" font-size="8.1" text-anchor="middle" fill="#111" stroke="#111" stroke-width="0.22" transform="translate(386.6,64) rotate(-90)">dV/dD Pore Volume (cm<tspan font-size="6" dy="-3.2">3</tspan><tspan dy="3.2" font-size="6"> g</tspan><tspan font-size="6" dy="-3.2">&#8722;1</tspan><tspan dy="3.2"> nm</tspan><tspan font-size="6" dy="-3.2">&#8722;1</tspan><tspan dy="3.2">)</tspan></text><path d="M405.6,18.2 h11.7" stroke="#ff1414" stroke-width="0.9"/><path d="M410.54,16.8 L413.2,18.2 L410.54,19.6 Z " fill="#fff" fill-opacity="0.5" stroke="#ff1414" stroke-width="0.75"/><path d="M405.6,26.2 h11.7" stroke="#444" stroke-width="0.9"/><path d="M410.54,24.8 L413.2,26.2 L410.54,27.6 Z " fill="#fff" fill-opacity="0.5" stroke="#444" stroke-width="0.75"/><text x="418.6" y="20.3" font-size="6.4" text-anchor="start" fill="#111" stroke="#111" stroke-width="0.22" >Co-N-C</text><text x="418.6" y="28.5" font-size="6.4" text-anchor="start" fill="#111" stroke="#111" stroke-width="0.22" >N-C</text><path d="M412.9,84.7 L412.6,88 L412.5,91.5 L412.8,95 L413.3,98.5 L414.2,102 L416,99.5 L418.3,97.2 L420.5,95.8 L423.4,94.6 L426.5,93.8 L430,93 L435.1,90.8 L447.1,103.4 L465.4,106.8 L482.7,108.1 L522,108.9" stroke="#3a3a3a" stroke-width="1.05" fill="none" stroke-linejoin="round"/><path d="M411.69,83.35 L414.25,84.7 L411.69,86.05 Z M411.39,86.65 L413.95,88 L411.39,89.35 Z M411.29,90.15 L413.85,91.5 L411.29,92.85 Z M411.59,93.65 L414.15,95 L411.59,96.35 Z M412.09,97.15 L414.65,98.5 L412.09,99.85 Z M412.99,100.65 L415.55,102 L412.99,103.35 Z M414.79,98.15 L417.35,99.5 L414.79,100.85 Z M417.09,95.85 L419.65,97.2 L417.09,98.55 Z M419.29,94.45 L421.85,95.8 L419.29,97.15 Z M422.19,93.25 L424.75,94.6 L422.19,95.95 Z M425.29,92.45 L427.85,93.8 L425.29,95.15 Z M428.79,91.65 L431.35,93 L428.79,94.35 Z M433.89,89.45 L436.45,90.8 L433.89,92.15 Z M445.89,102.05 L448.45,103.4 L445.89,104.75 Z M464.19,105.45 L466.75,106.8 L464.19,108.15 Z M481.49,106.75 L484.05,108.1 L481.49,109.45 Z M520.78,107.55 L523.35,108.9 L520.78,110.25 Z " fill="#fff" fill-opacity="0.5" stroke="#3a3a3a" stroke-width="0.75"/><path d="M412.4,53.6 L412.6,62.2 L412.8,69.9 L412.9,74.5 L413.1,82 L413.3,90 L414.2,96.2 L416,94.3 L418,93 L420,91.7 L422,90.5 L424,89.3 L426,88.2 L428.5,86.5 L431,84.6 L435.6,81.1 L449.2,98.7 L474.6,102.4 L493.3,103.8 L530.5,104.8" stroke="#ff1414" stroke-width="1.05" fill="none" stroke-linejoin="round"/><path d="M411.19,52.25 L413.75,53.6 L411.19,54.95 Z M411.39,60.85 L413.95,62.2 L411.39,63.55 Z M411.59,68.55 L414.15,69.9 L411.59,71.25 Z M411.69,73.15 L414.25,74.5 L411.69,75.85 Z M411.89,80.65 L414.45,82 L411.89,83.35 Z M412.09,88.65 L414.65,90 L412.09,91.35 Z M412.99,94.85 L415.55,96.2 L412.99,97.55 Z M414.79,92.95 L417.35,94.3 L414.79,95.65 Z M416.79,91.65 L419.35,93 L416.79,94.35 Z M418.79,90.35 L421.35,91.7 L418.79,93.05 Z M420.79,89.15 L423.35,90.5 L420.79,91.85 Z M422.79,87.95 L425.35,89.3 L422.79,90.65 Z M424.79,86.85 L427.35,88.2 L424.79,89.55 Z M427.29,85.15 L429.85,86.5 L427.29,87.85 Z M429.79,83.25 L432.35,84.6 L429.79,85.95 Z M434.39,79.75 L436.95,81.1 L434.39,82.45 Z M447.99,97.35 L450.55,98.7 L447.99,100.05 Z M473.39,101.05 L475.95,102.4 L473.39,103.75 Z M492.09,102.45 L494.65,103.8 L492.09,105.15 Z M529.28,103.45 L531.85,104.8 L529.28,106.15 Z " fill="#fff" fill-opacity="0.5" stroke="#ff1414" stroke-width="0.75"/><text x="5.8" y="155.5" font-size="14.1" text-anchor="start" fill="#111" stroke="#111" stroke-width="0.35" >(d)</text><rect x="27" y="156.5" width="143" height="109.8" fill="none" stroke="#3a3a3a" stroke-width="1"/><text x="27" y="274.6" font-size="6.6" text-anchor="middle" fill="#111" stroke="#111" stroke-width="0.22" >4000</text><text x="50.83" y="274.6" font-size="6.6" text-anchor="middle" fill="#111" stroke="#111" stroke-width="0.22" >3500</text><text x="74.67" y="274.6" font-size="6.6" text-anchor="middle" fill="#111" stroke="#111" stroke-width="0.22" >3000</text><text x="98.5" y="274.6" font-size="6.6" text-anchor="middle" fill="#111" stroke="#111" stroke-width="0.22" >2500</text><text x="122.33" y="274.6" font-size="6.6" text-anchor="middle" fill="#111" stroke="#111" stroke-width="0.22" >2000</text><text x="146.17" y="274.6" font-size="6.6" text-anchor="middle" fill="#111" stroke="#111" stroke-width="0.22" >1500</text><text x="170" y="274.6" font-size="6.6" text-anchor="middle" fill="#111" stroke="#111" stroke-width="0.22" >1000</text><path d="M27,266.3 v1.6 M50.83,266.3 v1.6 M74.67,266.3 v1.6 M98.5,266.3 v1.6 M122.33,266.3 v1.6 M146.17,266.3 v1.6 M170,266.3 v1.6 M38.92,266.3 v1.1199999999999999 M62.75,266.3 v1.1199999999999999 M86.58,266.3 v1.1199999999999999 M110.42,266.3 v1.1199999999999999 M134.25,266.3 v1.1199999999999999 M158.08,266.3 v1.1199999999999999 " stroke="#3a3a3a" stroke-width="0.8" fill="none"/><text x="106.9" y="287.2" font-size="8.3" text-anchor="middle" fill="#111" stroke="#111" stroke-width="0.22" >Wavenumbers (cm<tspan font-size="5" dy="-3">&#8722;1</tspan><tspan dy="3">)</tspan></text><text x="0" y="0" font-size="8.2" text-anchor="middle" fill="#111" stroke="#111" stroke-width="0.22" transform="translate(20,207.2) rotate(-90)">Transmittance (%)</text><path d="M30.4,164.3 h12" stroke="#ff1414" stroke-width="1"/><path d="M30.4,172.4 h12" stroke="#333" stroke-width="1"/><text x="43.9" y="166.5" font-size="6.4" text-anchor="start" fill="#111" stroke="#111" stroke-width="0.22" >Co-N-C</text><text x="43.9" y="174.4" font-size="6.4" text-anchor="start" fill="#111" stroke="#111" stroke-width="0.22" >N-C</text><text x="53.4" y="251" font-size="7.2" text-anchor="middle" fill="#ff2020" stroke="#ff2020" stroke-width="0.22" >O-H</text><text x="142.6" y="215.8" font-size="7.2" text-anchor="middle" fill="#ff2020" stroke="#ff2020" stroke-width="0.22" >C=O</text><path d="M27,217 L27.5,216.89 L28,216.78 L28.5,216.67 L29,216.57 L29.5,216.46 L30,216.35 L30.5,216.24 L31,216.14 L31.5,216.03 L32,215.92 L32.5,215.82 L33,215.71 L33.5,215.61 L34,215.5 L34.5,215.39 L35,215.27 L35.5,215.14 L36,215.01 L36.5,214.87 L37,214.73 L37.5,214.6 L38,214.46 L38.5,214.33 L39,214.21 L39.5,214.09 L40,213.99 L40.5,213.9 L41,213.82 L41.5,213.76 L42,213.72 L42.5,213.7 L43,213.71 L43.5,213.78 L44,213.91 L44.5,214.08 L45,214.28 L45.5,214.5 L46,214.74 L46.5,214.97 L47,215.2 L47.5,215.4 L48,215.6 L48.5,215.82 L49,216.05 L49.5,216.26 L50,216.45 L50.5,216.6 L51,216.73 L51.5,216.86 L52,216.95 L52.5,217 L53,216.98 L53.5,216.89 L54,216.76 L54.5,216.6 L55,216.42 L55.5,216.16 L56,215.82 L56.5,215.43 L57,215.01 L57.5,214.6 L58,214.17 L58.5,213.68 L59,213.16 L59.5,212.61 L60,212.06 L60.5,211.52 L61,211.01 L61.5,210.53 L62,210.12 L62.5,209.77 L63,209.44 L63.5,209.13 L64,208.84 L64.5,208.55 L65,208.28 L65.5,208.02 L66,207.77 L66.5,207.53 L67,207.3 L67.5,207.07 L68,206.85 L68.5,206.63 L69,206.42 L69.5,206.21 L70,206 L70.5,205.8 L71,205.59 L71.5,205.38 L72,205.18 L72.5,204.97 L73,204.77 L73.5,204.57 L74,204.37 L74.5,204.18 L75,203.99 L75.5,203.81 L76,203.62 L76.5,203.44 L77,203.26 L77.5,203.09 L78,202.91 L78.5,202.74 L79,202.57 L79.5,202.4 L80,202.23 L80.5,202.07 L81,201.9 L81.5,201.74 L82,201.58 L82.5,201.42 L83,201.26 L83.5,201.11 L84,200.96 L84.5,200.81 L85,200.66 L85.5,200.51 L86,200.36 L86.5,200.22 L87,200.07 L87.5,199.93 L88,199.78 L88.5,199.64 L89,199.49 L89.5,199.35 L90,199.2 L90.5,199.05 L91,198.91 L91.5,198.76 L92,198.61 L92.5,198.47 L93,198.33 L93.5,198.18 L94,198.04 L94.5,197.89 L95,197.75 L95.5,197.61 L96,197.46 L96.5,197.32 L97,197.17 L97.5,197.03 L98,196.88 L98.5,196.74 L99,196.59 L99.5,196.45 L100,196.3 L100.5,196.15 L101,196.01 L101.5,195.86 L102,195.71 L102.5,195.56 L103,195.41 L103.5,195.27 L104,195.12 L104.5,194.97 L105,194.82 L105.5,194.67 L106,194.52 L106.5,194.37 L107,194.22 L107.5,194.07 L108,193.92 L108.5,193.77 L109,193.62 L109.5,193.47 L110,193.32 L110.5,193.17 L111,193.02 L111.5,192.87 L112,192.72 L112.5,192.57 L113,192.42 L113.5,192.27 L114,192.12 L114.5,191.97 L115,191.81 L115.5,191.66 L116,191.51 L116.5,191.36 L117,191.21 L117.5,191.06 L118,190.91 L118.5,190.75 L119,190.6 L119.5,190.45 L120,190.3 L120.5,190.14 L121,189.98 L121.5,189.81 L122,189.64 L122.5,189.46 L123,189.28 L123.5,189.09 L124,188.91 L124.5,188.72 L125,188.52 L125.5,188.33 L126,188.14 L126.5,187.95 L127,187.76 L127.5,187.57 L128,187.39 L128.5,187.21 L129,187.03 L129.5,186.86 L130,186.69 L130.5,186.53 L131,186.38 L131.5,186.24 L132,186.1 L132.5,185.97 L133,185.86 L133.5,185.75 L134,185.66 L134.5,185.57 L135,185.5 L135.5,185.44 L136,185.4 L136.5,185.36 L137,185.33 L137.5,185.31 L138,185.3 L138.5,185.56 L139,185.95 L139.5,185.84 L140,185.18 L140.5,184.6 L141,184.29 L141.5,184.01 L142,183.76 L142.5,183.52 L143,183.3 L143.5,183.1 L144,182.91 L144.5,182.74 L145,182.57 L145.5,182.42 L146,182.27 L146.5,182.12 L147,181.97 L147.5,181.83 L148,181.68 L148.5,181.52 L149,181.36 L149.5,181.18 L150,181 L150.5,180.81 L151,180.62 L151.5,180.43 L152,180.24 L152.5,180.05 L153,179.85 L153.5,179.66 L154,179.47 L154.5,179.28 L155,179.09 L155.5,178.9 L156,178.71 L156.5,178.51 L157,178.32 L157.5,178.13 L158,177.94 L158.5,177.75 L159,177.55 L159.5,177.36 L160,177.17 L160.5,176.98 L161,176.78 L161.5,176.59 L162,176.4 L162.5,176.21 L163,176.01 L163.5,175.82 L164,175.63 L164.5,175.43 L165,175.24 L165.5,175.05 L166,174.85 L166.5,174.66 L167,174.47 L167.5,174.27 L168,174.08 L168.5,173.88 L169,173.69 L169.5,173.49 L170,173.3" stroke="#ff3030" stroke-width="1.05" fill="none"/><path d="M27,242.6 L27.5,242.46 L28,242.33 L28.5,242.19 L29,242.06 L29.5,241.93 L30,241.8 L30.5,241.67 L31,241.54 L31.5,241.41 L32,241.29 L32.5,241.16 L33,241.04 L33.5,240.92 L34,240.8 L34.5,240.68 L35,240.54 L35.5,240.41 L36,240.26 L36.5,240.12 L37,239.97 L37.5,239.83 L38,239.69 L38.5,239.55 L39,239.42 L39.5,239.31 L40,239.2 L40.5,239.1 L41,239.03 L41.5,238.96 L42,238.92 L42.5,238.9 L43,238.91 L43.5,239 L44,239.15 L44.5,239.35 L45,239.59 L45.5,239.86 L46,240.15 L46.5,240.44 L47,240.73 L47.5,241 L48,241.29 L48.5,241.63 L49,241.99 L49.5,242.32 L50,242.6 L50.5,242.8 L51,242.94 L51.5,243.06 L52,243.16 L52.5,243.2 L53,243.17 L53.5,243.05 L54,242.87 L54.5,242.64 L55,242.39 L55.5,241.99 L56,241.45 L56.5,240.84 L57,240.21 L57.5,239.6 L58,239 L58.5,238.35 L59,237.67 L59.5,236.97 L60,236.28 L60.5,235.61 L61,234.97 L61.5,234.39 L62,233.87 L62.5,233.43 L63,233.04 L63.5,232.67 L64,232.32 L64.5,232 L65,231.69 L65.5,231.4 L66,231.12 L66.5,230.86 L67,230.6 L67.5,230.35 L68,230.12 L68.5,229.89 L69,229.68 L69.5,229.47 L70,229.27 L70.5,229.07 L71,228.87 L71.5,228.68 L72,228.48 L72.5,228.29 L73,228.1 L73.5,227.92 L74,227.74 L74.5,227.56 L75,227.38 L75.5,227.21 L76,227.04 L76.5,226.86 L77,226.69 L77.5,226.52 L78,226.35 L78.5,226.18 L79,226 L79.5,225.83 L80,225.66 L80.5,225.48 L81,225.3 L81.5,225.12 L82,224.94 L82.5,224.75 L83,224.57 L83.5,224.38 L84,224.2 L84.5,224.01 L85,223.83 L85.5,223.64 L86,223.46 L86.5,223.27 L87,223.09 L87.5,222.9 L88,222.72 L88.5,222.54 L89,222.36 L89.5,222.18 L90,222 L90.5,221.82 L91,221.65 L91.5,221.47 L92,221.29 L92.5,221.12 L93,220.94 L93.5,220.77 L94,220.59 L94.5,220.42 L95,220.25 L95.5,220.07 L96,219.9 L96.5,219.72 L97,219.55 L97.5,219.38 L98,219.21 L98.5,219.03 L99,218.86 L99.5,218.69 L100,218.52 L100.5,218.35 L101,218.18 L101.5,218.01 L102,217.84 L102.5,217.67 L103,217.5 L103.5,217.33 L104,217.16 L104.5,216.99 L105,216.82 L105.5,216.65 L106,216.48 L106.5,216.32 L107,216.15 L107.5,215.98 L108,215.82 L108.5,215.65 L109,215.48 L109.5,215.32 L110,215.15 L110.5,214.99 L111,214.82 L111.5,214.66 L112,214.49 L112.5,214.33 L113,214.16 L113.5,214 L114,213.84 L114.5,213.67 L115,213.51 L115.5,213.35 L116,213.19 L116.5,213.02 L117,212.86 L117.5,212.7 L118,212.54 L118.5,212.38 L119,212.22 L119.5,212.06 L120,211.9 L120.5,211.74 L121,211.57 L121.5,211.4 L122,211.23 L122.5,211.05 L123,210.88 L123.5,210.7 L124,210.52 L124.5,210.33 L125,210.15 L125.5,209.97 L126,209.79 L126.5,209.61 L127,209.43 L127.5,209.25 L128,209.08 L128.5,208.91 L129,208.74 L129.5,208.57 L130,208.41 L130.5,208.26 L131,208.11 L131.5,207.96 L132,207.83 L132.5,207.69 L133,207.57 L133.5,207.45 L134,207.34 L134.5,207.24 L135,207.15 L135.5,207.07 L136,207 L136.5,206.93 L137,206.87 L137.5,206.82 L138,206.8 L138.5,207.18 L139,207.73 L139.5,207.57 L140,206.62 L140.5,205.8 L141,205.41 L141.5,205.06 L142,204.77 L142.5,204.51 L143,204.28 L143.5,204.07 L144,203.87 L144.5,203.69 L145,203.5 L145.5,203.32 L146,203.15 L146.5,203 L147,202.85 L147.5,202.71 L148,202.57 L148.5,202.44 L149,202.3 L149.5,202.15 L150,202 L150.5,201.84 L151,201.68 L151.5,201.52 L152,201.36 L152.5,201.2 L153,201.04 L153.5,200.88 L154,200.72 L154.5,200.55 L155,200.39 L155.5,200.22 L156,200.06 L156.5,199.89 L157,199.73 L157.5,199.56 L158,199.39 L158.5,199.22 L159,199.05 L159.5,198.88 L160,198.71 L160.5,198.54 L161,198.37 L161.5,198.19 L162,198.02 L162.5,197.84 L163,197.67 L163.5,197.49 L164,197.31 L164.5,197.13 L165,196.95 L165.5,196.77 L166,196.59 L166.5,196.41 L167,196.22 L167.5,196.04 L168,195.85 L168.5,195.67 L169,195.48 L169.5,195.29 L170,195.1" stroke="#444444" stroke-width="1.05" fill="none"/><text x="182.5" y="155.5" font-size="14.1" text-anchor="start" fill="#111" stroke="#111" stroke-width="0.35" >(e)</text><text x="207.6" y="276.3" font-size="6.6" text-anchor="middle" fill="#111" stroke="#111" stroke-width="0.22" >805</text><text x="231.68" y="276.3" font-size="6.6" text-anchor="middle" fill="#111" stroke="#111" stroke-width="0.22" >800</text><text x="255.77" y="276.3" font-size="6.6" text-anchor="middle" fill="#111" stroke="#111" stroke-width="0.22" >795</text><text x="279.85" y="276.3" font-size="6.6" text-anchor="middle" fill="#111" stroke="#111" stroke-width="0.22" >790</text><text x="303.93" y="276.3" font-size="6.6" text-anchor="middle" fill="#111" stroke="#111" stroke-width="0.22" >785</text><text x="328.02" y="276.3" font-size="6.6" text-anchor="middle" fill="#111" stroke="#111" stroke-width="0.22" >780</text><text x="352.1" y="276.3" font-size="6.6" text-anchor="middle" fill="#111" stroke="#111" stroke-width="0.22" >775</text><path d="M207.6,267.3 v1.6 M231.68,267.3 v1.6 M255.77,267.3 v1.6 M279.85,267.3 v1.6 M303.93,267.3 v1.6 M328.02,267.3 v1.6 M352.1,267.3 v1.6 M219.64,267.3 v1.1199999999999999 M243.72,267.3 v1.1199999999999999 M267.81,267.3 v1.1199999999999999 M291.89,267.3 v1.1199999999999999 M315.98,267.3 v1.1199999999999999 M340.06,267.3 v1.1199999999999999 " stroke="#3a3a3a" stroke-width="0.8" fill="none"/><text x="280" y="287.3" font-size="8.35" text-anchor="middle" fill="#111" stroke="#111" stroke-width="0.22" >Binding Energy (eV)</text><text x="0" y="0" font-size="8.2" text-anchor="middle" fill="#111" stroke="#111" stroke-width="0.22" transform="translate(202.6,211.4) rotate(-90)">Intensity (a.u.)</text><text x="209.6" y="164" font-size="6.7" text-anchor="start" fill="#111" stroke="#111" stroke-width="0.22" >Co 2p</text><g fill="#eeeeee" stroke="#c4c4c4" stroke-width="0.45"><circle cx="335.53" cy="235.26" r="0.85"/><circle cx="339.49" cy="227.86" r="0.85"/><circle cx="243.38" cy="202.62" r="0.85"/><circle cx="264.55" cy="233.42" r="0.85"/><circle cx="240.6" cy="223.77" r="0.85"/><circle cx="225.92" cy="231.62" r="0.85"/><circle cx="212.74" cy="228.6" r="0.85"/><circle cx="280.23" cy="223.28" r="0.85"/><circle cx="225.67" cy="216.68" r="0.85"/><circle cx="233.3" cy="225.96" r="0.85"/><circle cx="331.48" cy="229.2" r="0.85"/><circle cx="277.49" cy="235.04" r="0.85"/><circle cx="234.36" cy="226.92" r="0.85"/><circle cx="304.13" cy="226.52" r="0.85"/><circle cx="246.15" cy="202.47" r="0.85"/><circle cx="283.62" cy="237.39" r="0.85"/><circle cx="248.6" cy="201.03" r="0.85"/><circle cx="282.07" cy="234.08" r="0.85"/><circle cx="298.19" cy="222.97" r="0.85"/><circle cx="284.95" cy="239.8" r="0.85"/><circle cx="264.77" cy="223.3" r="0.85"/><circle cx="321.48" cy="196.87" r="0.85"/><circle cx="333.34" cy="223.57" r="0.85"/><circle cx="233.74" cy="231.19" r="0.85"/><circle cx="227.56" cy="229.76" r="0.85"/><circle cx="224.24" cy="221.12" r="0.85"/><circle cx="348.57" cy="241.02" r="0.85"/><circle cx="343.12" cy="238.98" r="0.85"/><circle cx="241.1" cy="205.14" r="0.85"/><circle cx="347.18" cy="239.84" r="0.85"/><circle cx="237.82" cy="229.27" r="0.85"/><circle cx="280.68" cy="236.62" r="0.85"/><circle cx="279.37" cy="245.08" r="0.85"/><circle cx="339.3" cy="239.52" r="0.85"/><circle cx="213.82" cy="239.82" r="0.85"/><circle cx="253.25" cy="211.15" r="0.85"/><circle cx="294.1" cy="222.63" r="0.85"/><circle cx="217.53" cy="235.68" r="0.85"/><circle cx="241.95" cy="212.5" r="0.85"/><circle cx="274.74" cy="222.62" r="0.85"/><circle cx="334.4" cy="238.29" r="0.85"/><circle cx="317.2" cy="212.45" r="0.85"/><circle cx="326.96" cy="194.84" r="0.85"/><circle cx="317.21" cy="210.38" r="0.85"/><circle cx="309.56" cy="207.64" r="0.85"/><circle cx="329.93" cy="215.13" r="0.85"/><circle cx="305.79" cy="224.53" r="0.85"/><circle cx="313.57" cy="204.96" r="0.85"/><circle cx="251.29" cy="209.68" r="0.85"/><circle cx="232.06" cy="238.15" r="0.85"/><circle cx="316.56" cy="213.6" r="0.85"/><circle cx="231.8" cy="236.2" r="0.85"/><circle cx="339.94" cy="239.79" r="0.85"/><circle cx="293.62" cy="218.9" r="0.85"/><circle cx="255.27" cy="215.3" r="0.85"/><circle cx="342.41" cy="246.52" r="0.85"/><circle cx="230.26" cy="228.83" r="0.85"/><circle cx="281.83" cy="208.53" r="0.85"/><circle cx="221.14" cy="227.83" r="0.85"/><circle cx="346.54" cy="240.62" r="0.85"/><circle cx="290.57" cy="230.13" r="0.85"/><circle cx="323.33" cy="181.24" r="0.85"/><circle cx="248.46" cy="207.64" r="0.85"/><circle cx="323.06" cy="185.23" r="0.85"/><circle cx="308.86" cy="222.31" r="0.85"/><circle cx="300.37" cy="222.83" r="0.85"/><circle cx="344.41" cy="236.27" r="0.85"/><circle cx="270.21" cy="239.22" r="0.85"/><circle cx="267.57" cy="215.73" r="0.85"/><circle cx="307.32" cy="213.48" r="0.85"/><circle cx="327.83" cy="198.13" r="0.85"/><circle cx="256.08" cy="225.55" r="0.85"/><circle cx="304.1" cy="234.27" r="0.85"/><circle cx="238" cy="215.12" r="0.85"/><circle cx="287.17" cy="235.41" r="0.85"/><circle cx="318.38" cy="210.03" r="0.85"/><circle cx="217.37" cy="236.13" r="0.85"/><circle cx="312.45" cy="216.47" r="0.85"/><circle cx="210.21" cy="224.83" r="0.85"/><circle cx="345.52" cy="236.01" r="0.85"/><circle cx="275.25" cy="232.38" r="0.85"/><circle cx="266.7" cy="230.24" r="0.85"/><circle cx="311.38" cy="210.08" r="0.85"/><circle cx="283.09" cy="227.09" r="0.85"/><circle cx="312.88" cy="216.53" r="0.85"/><circle cx="220.16" cy="228.86" r="0.85"/><circle cx="288.76" cy="233.93" r="0.85"/><circle cx="288.09" cy="227.3" r="0.85"/><circle cx="341.76" cy="238.32" r="0.85"/><circle cx="213.68" cy="237.96" r="0.85"/><circle cx="272.98" cy="210.99" r="0.85"/><circle cx="298.56" cy="218.44" r="0.85"/><circle cx="287.03" cy="234.14" r="0.85"/><circle cx="218.64" cy="242.52" r="0.85"/><circle cx="293.13" cy="219.1" r="0.85"/><circle cx="239.89" cy="215.52" r="0.85"/><circle cx="236.06" cy="226.85" r="0.85"/><circle cx="334.09" cy="220.53" r="0.85"/><circle cx="236.39" cy="232.6" r="0.85"/><circle cx="273.19" cy="242.6" r="0.85"/><circle cx="315.67" cy="218.89" r="0.85"/><circle cx="309.5" cy="207.66" r="0.85"/><circle cx="287.42" cy="238.36" r="0.85"/><circle cx="323.81" cy="180.4" r="0.85"/><circle cx="274.84" cy="230.1" r="0.85"/><circle cx="297.03" cy="216.78" r="0.85"/><circle cx="325.51" cy="170.16" r="0.85"/><circle cx="305.31" cy="223.7" r="0.85"/><circle cx="300.1" cy="228.26" r="0.85"/><circle cx="266.28" cy="242.95" r="0.85"/><circle cx="288.12" cy="218.12" r="0.85"/><circle cx="264.84" cy="229.59" r="0.85"/><circle cx="314.81" cy="213.89" r="0.85"/><circle cx="262.59" cy="236.22" r="0.85"/><circle cx="274.96" cy="237.35" r="0.85"/><circle cx="316.41" cy="214.71" r="0.85"/><circle cx="280.27" cy="238.81" r="0.85"/><circle cx="256.51" cy="220.71" r="0.85"/><circle cx="326.65" cy="194.95" r="0.85"/><circle cx="262.67" cy="243.09" r="0.85"/><circle cx="329.22" cy="207.46" r="0.85"/><circle cx="320.68" cy="202.76" r="0.85"/><circle cx="272.19" cy="232.64" r="0.85"/><circle cx="310.3" cy="210.05" r="0.85"/><circle cx="212.93" cy="239.59" r="0.85"/><circle cx="263.94" cy="229.02" r="0.85"/><circle cx="331.46" cy="218.77" r="0.85"/><circle cx="291.16" cy="229.73" r="0.85"/><circle cx="288.05" cy="228.09" r="0.85"/><circle cx="303.39" cy="223.84" r="0.85"/><circle cx="305.25" cy="210.31" r="0.85"/><circle cx="291.75" cy="208.24" r="0.85"/><circle cx="268.36" cy="236.56" r="0.85"/><circle cx="234.33" cy="228.02" r="0.85"/><circle cx="249.99" cy="210.11" r="0.85"/><circle cx="250.03" cy="208.96" r="0.85"/><circle cx="269.81" cy="219.72" r="0.85"/><circle cx="351.36" cy="228.89" r="0.85"/><circle cx="258.59" cy="216.68" r="0.85"/><circle cx="272.2" cy="239.23" r="0.85"/><circle cx="261.33" cy="216.85" r="0.85"/><circle cx="291.43" cy="228.73" r="0.85"/><circle cx="344.02" cy="238.88" r="0.85"/><circle cx="335.58" cy="244.58" r="0.85"/><circle cx="262.12" cy="225.96" r="0.85"/><circle cx="246.3" cy="210.84" r="0.85"/><circle cx="334.91" cy="238.5" r="0.85"/><circle cx="278.87" cy="236" r="0.85"/><circle cx="306.38" cy="209.27" r="0.85"/><circle cx="218.52" cy="232.13" r="0.85"/><circle cx="332.35" cy="225.93" r="0.85"/><circle cx="252.91" cy="213.96" r="0.85"/><circle cx="278.96" cy="239.47" r="0.85"/><circle cx="236.42" cy="222.87" r="0.85"/><circle cx="268.3" cy="236.99" r="0.85"/><circle cx="326.83" cy="187.54" r="0.85"/><circle cx="326.76" cy="191.08" r="0.85"/><circle cx="275.97" cy="228.83" r="0.85"/><circle cx="318.2" cy="206.16" r="0.85"/><circle cx="273.73" cy="226.06" r="0.85"/><circle cx="261.58" cy="231.16" r="0.85"/><circle cx="286.34" cy="228.78" r="0.85"/><circle cx="236.89" cy="215.09" r="0.85"/><circle cx="253.43" cy="217.41" r="0.85"/><circle cx="309.39" cy="212.41" r="0.85"/><circle cx="318.57" cy="208.26" r="0.85"/><circle cx="216.14" cy="223.14" r="0.85"/><circle cx="313.16" cy="208.5" r="0.85"/><circle cx="325.3" cy="186.85" r="0.85"/><circle cx="271.89" cy="241.01" r="0.85"/><circle cx="216.96" cy="225.89" r="0.85"/><circle cx="306" cy="231.11" r="0.85"/><circle cx="243.32" cy="212.78" r="0.85"/><circle cx="300.32" cy="232.56" r="0.85"/><circle cx="262.05" cy="234.29" r="0.85"/><circle cx="299.43" cy="226.12" r="0.85"/><circle cx="245.04" cy="214.26" r="0.85"/><circle cx="276.38" cy="240.19" r="0.85"/><circle cx="283.29" cy="237.12" r="0.85"/><circle cx="298.55" cy="221.03" r="0.85"/><circle cx="237.15" cy="214.75" r="0.85"/><circle cx="346.05" cy="250.28" r="0.85"/><circle cx="249.49" cy="208.15" r="0.85"/><circle cx="251.91" cy="211.2" r="0.85"/><circle cx="244.78" cy="208.85" r="0.85"/><circle cx="217.68" cy="213.74" r="0.85"/><circle cx="268.69" cy="235.16" r="0.85"/><circle cx="318.76" cy="209.39" r="0.85"/><circle cx="309.82" cy="217.71" r="0.85"/><circle cx="236.06" cy="210.51" r="0.85"/><circle cx="227.65" cy="217.83" r="0.85"/><circle cx="254.12" cy="200.09" r="0.85"/><circle cx="318.24" cy="203.46" r="0.85"/><circle cx="278.04" cy="234.79" r="0.85"/><circle cx="340.48" cy="234.01" r="0.85"/><circle cx="302.19" cy="226.19" r="0.85"/><circle cx="297.1" cy="222.74" r="0.85"/><circle cx="318.16" cy="214.85" r="0.85"/><circle cx="315.66" cy="216.45" r="0.85"/><circle cx="257.34" cy="228.15" r="0.85"/><circle cx="244.88" cy="210.4" r="0.85"/><circle cx="270.8" cy="211.67" r="0.85"/><circle cx="278.21" cy="234.25" r="0.85"/><circle cx="228.34" cy="228.76" r="0.85"/><circle cx="271.33" cy="227.58" r="0.85"/><circle cx="299.81" cy="226.71" r="0.85"/><circle cx="227.48" cy="225.8" r="0.85"/><circle cx="227.81" cy="235.59" r="0.85"/><circle cx="232.93" cy="230.45" r="0.85"/><circle cx="248.66" cy="204.38" r="0.85"/><circle cx="346.01" cy="226.96" r="0.85"/><circle cx="211.7" cy="237.4" r="0.85"/><circle cx="234.37" cy="228.25" r="0.85"/><circle cx="231.68" cy="223.38" r="0.85"/><circle cx="276.07" cy="244.47" r="0.85"/><circle cx="210.16" cy="231.21" r="0.85"/><circle cx="273.75" cy="243.79" r="0.85"/><circle cx="231.38" cy="236.38" r="0.85"/><circle cx="246.69" cy="210.19" r="0.85"/><circle cx="321.72" cy="187.04" r="0.85"/><circle cx="234.41" cy="234.36" r="0.85"/><circle cx="296.56" cy="221.62" r="0.85"/><circle cx="266.31" cy="240.07" r="0.85"/><circle cx="267.92" cy="242.38" r="0.85"/><circle cx="325.22" cy="180.85" r="0.85"/><circle cx="231.09" cy="225.37" r="0.85"/><circle cx="340.57" cy="237.47" r="0.85"/><circle cx="336.22" cy="237.66" r="0.85"/><circle cx="303.9" cy="223.07" r="0.85"/><circle cx="215.1" cy="234.91" r="0.85"/><circle cx="303.18" cy="228.83" r="0.85"/><circle cx="294.15" cy="220.48" r="0.85"/><circle cx="318.81" cy="199.44" r="0.85"/><circle cx="238.68" cy="222.46" r="0.85"/><circle cx="344.81" cy="221.88" r="0.85"/><circle cx="335.17" cy="229.11" r="0.85"/><circle cx="224.41" cy="233.35" r="0.85"/><circle cx="253.23" cy="219.24" r="0.85"/><circle cx="212.66" cy="235.97" r="0.85"/><circle cx="327.24" cy="196.39" r="0.85"/><circle cx="339.32" cy="248.82" r="0.85"/><circle cx="350.04" cy="240" r="0.85"/><circle cx="295.81" cy="211.46" r="0.85"/><circle cx="303.57" cy="231.32" r="0.85"/><circle cx="305.35" cy="204.22" r="0.85"/><circle cx="289.82" cy="236.46" r="0.85"/><circle cx="344.67" cy="240.8" r="0.85"/><circle cx="295.23" cy="214.66" r="0.85"/><circle cx="256.18" cy="224.38" r="0.85"/><circle cx="281.6" cy="239.25" r="0.85"/><circle cx="210.68" cy="221.27" r="0.85"/><circle cx="311.91" cy="202.28" r="0.85"/><circle cx="307.58" cy="216.1" r="0.85"/><circle cx="268.42" cy="216.95" r="0.85"/><circle cx="330.19" cy="213.96" r="0.85"/><circle cx="316.42" cy="209.75" r="0.85"/><circle cx="256.31" cy="216.7" r="0.85"/><circle cx="219.12" cy="236.81" r="0.85"/><circle cx="226.97" cy="220.92" r="0.85"/><circle cx="234.44" cy="233.64" r="0.85"/><circle cx="251.61" cy="208.47" r="0.85"/><circle cx="272.22" cy="239.3" r="0.85"/><circle cx="341.17" cy="242.06" r="0.85"/><circle cx="247.95" cy="198.86" r="0.85"/><circle cx="336.95" cy="243.84" r="0.85"/><circle cx="305.65" cy="231.25" r="0.85"/><circle cx="330.48" cy="212.76" r="0.85"/><circle cx="265.87" cy="233.12" r="0.85"/><circle cx="208.47" cy="235.22" r="0.85"/><circle cx="320.93" cy="192.55" r="0.85"/><circle cx="243.23" cy="219.49" r="0.85"/><circle cx="228.45" cy="219.08" r="0.85"/><circle cx="322.73" cy="176.23" r="0.85"/><circle cx="306.49" cy="225.6" r="0.85"/><circle cx="238.48" cy="221.32" r="0.85"/><circle cx="246.4" cy="210.05" r="0.85"/><circle cx="342.78" cy="238.62" r="0.85"/><circle cx="246.54" cy="216.51" r="0.85"/><circle cx="308.8" cy="213.97" r="0.85"/><circle cx="226.59" cy="238.64" r="0.85"/><circle cx="324.96" cy="171.94" r="0.85"/><circle cx="224.87" cy="223.56" r="0.85"/><circle cx="282.05" cy="226.87" r="0.85"/><circle cx="213.05" cy="226.23" r="0.85"/><circle cx="286.94" cy="234.64" r="0.85"/><circle cx="329.49" cy="207.92" r="0.85"/><circle cx="220.11" cy="231.11" r="0.85"/><circle cx="247.36" cy="206.65" r="0.85"/><circle cx="317.73" cy="209.06" r="0.85"/><circle cx="295.26" cy="213.05" r="0.85"/><circle cx="252.89" cy="218.42" r="0.85"/><circle cx="298.25" cy="217.11" r="0.85"/><circle cx="273.25" cy="226.73" r="0.85"/><circle cx="331.75" cy="225.75" r="0.85"/><circle cx="250.04" cy="201.97" r="0.85"/><circle cx="316.73" cy="211.73" r="0.85"/><circle cx="299.22" cy="223.78" r="0.85"/><circle cx="314.25" cy="220.21" r="0.85"/><circle cx="262.28" cy="213.1" r="0.85"/><circle cx="312.03" cy="211.78" r="0.85"/><circle cx="308.22" cy="219.01" r="0.85"/><circle cx="263.6" cy="229.89" r="0.85"/><circle cx="211.8" cy="226.35" r="0.85"/><circle cx="346.18" cy="239.96" r="0.85"/><circle cx="310.4" cy="210.67" r="0.85"/><circle cx="237.38" cy="231.85" r="0.85"/><circle cx="312.87" cy="204.49" r="0.85"/><circle cx="247.99" cy="201.12" r="0.85"/><circle cx="275.34" cy="210.42" r="0.85"/><circle cx="331.39" cy="218.29" r="0.85"/><circle cx="272.3" cy="239.67" r="0.85"/><circle cx="249.33" cy="211.48" r="0.85"/><circle cx="251.84" cy="210.94" r="0.85"/><circle cx="219.05" cy="241.03" r="0.85"/><circle cx="239.5" cy="228" r="0.85"/><circle cx="246.9" cy="206.68" r="0.85"/><circle cx="232.82" cy="210.9" r="0.85"/><circle cx="217.05" cy="239.8" r="0.85"/><circle cx="274.84" cy="234.99" r="0.85"/><circle cx="238.77" cy="228.78" r="0.85"/><circle cx="314.01" cy="212.02" r="0.85"/><circle cx="340.38" cy="236.27" r="0.85"/><circle cx="247.17" cy="214.49" r="0.85"/><circle cx="290.12" cy="221.25" r="0.85"/><circle cx="280.72" cy="241" r="0.85"/><circle cx="218.78" cy="232.08" r="0.85"/><circle cx="225.92" cy="213.6" r="0.85"/><circle cx="334.97" cy="217.59" r="0.85"/><circle cx="276.04" cy="221.43" r="0.85"/><circle cx="323.46" cy="185.75" r="0.85"/><circle cx="217.55" cy="210.71" r="0.85"/><circle cx="293.36" cy="217.99" r="0.85"/><circle cx="332.17" cy="229.71" r="0.85"/><circle cx="332.42" cy="232.24" r="0.85"/><circle cx="208.82" cy="231.52" r="0.85"/><circle cx="282.87" cy="243.87" r="0.85"/><circle cx="260.95" cy="227.98" r="0.85"/><circle cx="317.07" cy="213.79" r="0.85"/><circle cx="218.51" cy="232.07" r="0.85"/><circle cx="246.02" cy="211.62" r="0.85"/><circle cx="324.61" cy="179.02" r="0.85"/><circle cx="275.38" cy="236.59" r="0.85"/><circle cx="273.03" cy="231.28" r="0.85"/><circle cx="346.99" cy="242.12" r="0.85"/><circle cx="253.9" cy="210.81" r="0.85"/><circle cx="213.99" cy="238.56" r="0.85"/><circle cx="264.28" cy="231.45" r="0.85"/><circle cx="230.01" cy="232.75" r="0.85"/><circle cx="219.75" cy="242.63" r="0.85"/><circle cx="289.49" cy="234.36" r="0.85"/><circle cx="344.84" cy="246.26" r="0.85"/><circle cx="291.14" cy="224.14" r="0.85"/><circle cx="300.86" cy="219.07" r="0.85"/><circle cx="254.44" cy="210.27" r="0.85"/><circle cx="289.96" cy="236.71" r="0.85"/><circle cx="315.95" cy="215.01" r="0.85"/><circle cx="292.56" cy="222.64" r="0.85"/><circle cx="323.2" cy="183.9" r="0.85"/><circle cx="286.99" cy="238.17" r="0.85"/><circle cx="236.43" cy="224.41" r="0.85"/><circle cx="291.62" cy="222.97" r="0.85"/><circle cx="278.45" cy="233.09" r="0.85"/><circle cx="231.81" cy="207.79" r="0.85"/><circle cx="296.85" cy="216.24" r="0.85"/><circle cx="325.23" cy="177.16" r="0.85"/><circle cx="227.39" cy="241.14" r="0.85"/><circle cx="286.2" cy="227.83" r="0.85"/><circle cx="313.28" cy="211.14" r="0.85"/><circle cx="265.83" cy="224.35" r="0.85"/><circle cx="246.75" cy="203.65" r="0.85"/><circle cx="261.42" cy="213.23" r="0.85"/><circle cx="285.73" cy="239.59" r="0.85"/><circle cx="306.54" cy="229.21" r="0.85"/><circle cx="288.24" cy="226.77" r="0.85"/><circle cx="223.36" cy="211.17" r="0.85"/><circle cx="325.37" cy="181.64" r="0.85"/><circle cx="340.57" cy="244.69" r="0.85"/><circle cx="222.54" cy="240.46" r="0.85"/><circle cx="243.81" cy="213.87" r="0.85"/><circle cx="232.92" cy="229.75" r="0.85"/><circle cx="329.85" cy="212.59" r="0.85"/><circle cx="338.62" cy="246.29" r="0.85"/><circle cx="214.35" cy="225.61" r="0.85"/><circle cx="255.7" cy="224.4" r="0.85"/><circle cx="235.62" cy="233.63" r="0.85"/><circle cx="275.38" cy="208.2" r="0.85"/><circle cx="340.25" cy="234.98" r="0.85"/><circle cx="218.07" cy="237.83" r="0.85"/><circle cx="232.58" cy="235.36" r="0.85"/><circle cx="277.89" cy="233.81" r="0.85"/><circle cx="283.2" cy="228.75" r="0.85"/><circle cx="314.98" cy="214.48" r="0.85"/><circle cx="270.81" cy="232.26" r="0.85"/><circle cx="228.25" cy="216.39" r="0.85"/><circle cx="258.74" cy="223.82" r="0.85"/><circle cx="348.93" cy="237.27" r="0.85"/><circle cx="315.73" cy="217.1" r="0.85"/><circle cx="224.7" cy="230.08" r="0.85"/><circle cx="323.98" cy="182.61" r="0.85"/><circle cx="252.62" cy="215.54" r="0.85"/><circle cx="320.13" cy="202.82" r="0.85"/><circle cx="209.83" cy="231.04" r="0.85"/><circle cx="333.03" cy="233.39" r="0.85"/><circle cx="231.29" cy="216.7" r="0.85"/><circle cx="273.4" cy="230.35" r="0.85"/><circle cx="302.96" cy="212.65" r="0.85"/><circle cx="280.88" cy="213.01" r="0.85"/><circle cx="231.73" cy="232.42" r="0.85"/><circle cx="227.96" cy="234.86" r="0.85"/><circle cx="248.83" cy="207.39" r="0.85"/><circle cx="215.52" cy="227.52" r="0.85"/><circle cx="239.07" cy="228.56" r="0.85"/><circle cx="226.67" cy="238.18" r="0.85"/><circle cx="274.7" cy="242.24" r="0.85"/><circle cx="259.16" cy="213.63" r="0.85"/><circle cx="292.21" cy="224.98" r="0.85"/><circle cx="248.31" cy="206.63" r="0.85"/><circle cx="212.87" cy="236.35" r="0.85"/><circle cx="255.51" cy="223" r="0.85"/><circle cx="316.37" cy="211.91" r="0.85"/><circle cx="244.71" cy="208.72" r="0.85"/><circle cx="266.05" cy="233.01" r="0.85"/><circle cx="316.34" cy="212.13" r="0.85"/><circle cx="266.36" cy="228.51" r="0.85"/><circle cx="335.3" cy="227.35" r="0.85"/><circle cx="339.74" cy="227.84" r="0.85"/><circle cx="252.56" cy="218.25" r="0.85"/><circle cx="313.61" cy="214.74" r="0.85"/><circle cx="244.32" cy="210.39" r="0.85"/><circle cx="228.02" cy="220.2" r="0.85"/><circle cx="270.84" cy="238.13" r="0.85"/><circle cx="294.45" cy="217.82" r="0.85"/><circle cx="342.26" cy="246.61" r="0.85"/><circle cx="228.94" cy="216.69" r="0.85"/><circle cx="310.22" cy="211.71" r="0.85"/><circle cx="276.23" cy="241.62" r="0.85"/><circle cx="226.9" cy="228.38" r="0.85"/><circle cx="347.58" cy="235.49" r="0.85"/><circle cx="307.84" cy="225.88" r="0.85"/><circle cx="226.49" cy="242.34" r="0.85"/></g><path d="M227.1,238.73 L227.6,238.68 L228.1,238.62 L228.6,238.54 L229.1,238.44 L229.6,238.31 L230.1,238.16 L230.6,237.98 L231.1,237.77 L231.6,237.52 L232.1,237.22 L232.6,236.88 L233.1,236.49 L233.6,236.05 L234.1,235.55 L234.6,234.98 L235.1,234.35 L235.6,233.66 L236.1,232.9 L236.6,232.07 L237.1,231.17 L237.6,230.2 L238.1,229.17 L238.6,228.08 L239.1,226.94 L239.6,225.75 L240.1,224.52 L240.6,223.26 L241.1,221.98 L241.6,220.7 L242.1,219.43 L242.6,218.18 L243.1,216.96 L243.6,215.8 L244.1,214.71 L244.6,213.7 L245.1,212.78 L245.6,211.98 L246.1,211.3 L246.6,210.74 L247.1,210.33 L247.6,210.07 L248.1,209.96 L248.6,210 L249.1,210.2 L249.6,210.54 L250.1,211.03 L250.6,211.67 L251.1,212.43 L251.6,213.31 L252.1,214.3 L252.6,215.38 L253.1,216.54 L253.6,217.76 L254.1,219.04 L254.6,220.35 L255.1,221.68 L255.6,223.01 L256.1,224.34 L256.6,225.64 L257.1,226.92 L257.6,228.16 L258.1,229.34 L258.6,230.47 L259.1,231.54 L259.6,232.55 L260.1,233.49 L260.6,234.36 L261.1,235.16 L261.6,235.89 L262.1,236.56 L262.6,237.17 L263.1,237.71 L263.6,238.2 L264.1,238.63 L264.6,239.01 L265.1,239.35 L265.6,239.65 L266.1,239.91 L266.6,240.14 L267.1,240.33 L267.6,240.51 L268.1,240.65 L268.6,240.78 L269.1,240.89 L269.6,240.99 L269.6,241.29 L269.1,241.26 L268.6,241.23 L268.1,241.21 L267.6,241.18 L267.1,241.15 L266.6,241.13 L266.1,241.1 L265.6,241.07 L265.1,241.05 L264.6,241.02 L264.1,240.99 L263.6,240.97 L263.1,240.94 L262.6,240.91 L262.1,240.89 L261.6,240.86 L261.1,240.84 L260.6,240.81 L260.1,240.78 L259.6,240.76 L259.1,240.73 L258.6,240.7 L258.1,240.68 L257.6,240.65 L257.1,240.62 L256.6,240.6 L256.1,240.57 L255.6,240.54 L255.1,240.52 L254.6,240.49 L254.1,240.46 L253.6,240.44 L253.1,240.41 L252.6,240.38 L252.1,240.36 L251.6,240.33 L251.1,240.31 L250.6,240.28 L250.1,240.25 L249.6,240.23 L249.1,240.2 L248.6,240.17 L248.1,240.15 L247.6,240.12 L247.1,240.09 L246.6,240.07 L246.1,240.04 L245.6,240.01 L245.1,239.99 L244.6,239.96 L244.1,239.93 L243.6,239.91 L243.1,239.88 L242.6,239.85 L242.1,239.83 L241.6,239.8 L241.1,239.78 L240.6,239.75 L240.1,239.72 L239.6,239.7 L239.1,239.67 L238.6,239.64 L238.1,239.62 L237.6,239.59 L237.1,239.56 L236.6,239.54 L236.1,239.51 L235.6,239.48 L235.1,239.46 L234.6,239.43 L234.1,239.4 L233.6,239.38 L233.1,239.35 L232.6,239.32 L232.1,239.3 L231.6,239.27 L231.1,239.25 L230.6,239.22 L230.1,239.19 L229.6,239.17 L229.1,239.14 L228.6,239.11 L228.1,239.09 L227.6,239.06 L227.1,239.03 Z" fill="url(#pb)" stroke="#1414e0" stroke-width="0.75"/><path d="M282.6,241.66 L283.1,241.57 L283.6,241.45 L284.1,241.28 L284.6,241.05 L285.1,240.76 L285.6,240.39 L286.1,239.94 L286.6,239.39 L287.1,238.74 L287.6,237.97 L288.1,237.08 L288.6,236.07 L289.1,234.95 L289.6,233.73 L290.1,232.41 L290.6,231.03 L291.1,229.62 L291.6,228.19 L292.1,226.79 L292.6,225.47 L293.1,224.25 L293.6,223.19 L294.1,222.31 L294.6,221.65 L295.1,221.23 L295.6,221.07 L296.1,221.18 L296.6,221.54 L297.1,222.16 L297.6,223.01 L298.1,224.06 L298.6,225.27 L299.1,226.61 L299.6,228.04 L300.1,229.51 L300.6,230.99 L301.1,232.44 L301.6,233.84 L302.1,235.15 L302.6,236.37 L303.1,237.47 L303.6,238.46 L304.1,239.33 L304.6,240.09 L305.1,240.73 L305.6,241.27 L306.1,241.73 L306.6,242.1 L307.1,242.4 L307.6,242.65 L308.1,242.84 L308.6,243 L309.1,243.12 L309.1,243.38 L308.6,243.35 L308.1,243.33 L307.6,243.3 L307.1,243.27 L306.6,243.25 L306.1,243.22 L305.6,243.19 L305.1,243.17 L304.6,243.14 L304.1,243.11 L303.6,243.09 L303.1,243.06 L302.6,243.03 L302.1,243.01 L301.6,242.98 L301.1,242.96 L300.6,242.93 L300.1,242.9 L299.6,242.88 L299.1,242.85 L298.6,242.82 L298.1,242.8 L297.6,242.77 L297.1,242.74 L296.6,242.72 L296.1,242.69 L295.6,242.66 L295.1,242.64 L294.6,242.61 L294.1,242.58 L293.6,242.56 L293.1,242.53 L292.6,242.5 L292.1,242.48 L291.6,242.45 L291.1,242.43 L290.6,242.4 L290.1,242.37 L289.6,242.35 L289.1,242.32 L288.6,242.29 L288.1,242.27 L287.6,242.24 L287.1,242.21 L286.6,242.19 L286.1,242.16 L285.6,242.13 L285.1,242.11 L284.6,242.08 L284.1,242.05 L283.6,242.03 L283.1,242 L282.6,241.97 Z" fill="url(#pr)" stroke="#ff1a1a" stroke-width="0.75"/><path d="M298.6,242.52 L299.1,242.43 L299.6,242.3 L300.1,242.12 L300.6,241.87 L301.1,241.55 L301.6,241.14 L302.1,240.63 L302.6,240 L303.1,239.24 L303.6,238.33 L304.1,237.28 L304.6,236.06 L305.1,234.7 L305.6,233.19 L306.1,231.55 L306.6,229.82 L307.1,228.01 L307.6,226.18 L308.1,224.37 L308.6,222.63 L309.1,221.01 L309.6,219.58 L310.1,218.37 L310.6,217.44 L311.1,216.83 L311.6,216.54 L312.1,216.6 L312.6,217.01 L313.1,217.74 L313.6,218.79 L314.1,220.09 L314.6,221.62 L315.1,223.32 L315.6,225.13 L316.1,227 L316.6,228.89 L317.1,230.73 L317.6,232.5 L318.1,234.17 L318.6,235.7 L319.1,237.09 L319.6,238.33 L320.1,239.41 L320.6,240.33 L321.1,241.12 L321.6,241.78 L322.1,242.32 L322.6,242.77 L323.1,243.12 L323.6,243.41 L324.1,243.63 L324.6,243.81 L325.1,243.95 L325.1,244.23 L324.6,244.2 L324.1,244.17 L323.6,244.15 L323.1,244.12 L322.6,244.09 L322.1,244.07 L321.6,244.04 L321.1,244.02 L320.6,243.99 L320.1,243.96 L319.6,243.94 L319.1,243.91 L318.6,243.88 L318.1,243.86 L317.6,243.83 L317.1,243.8 L316.6,243.78 L316.1,243.75 L315.6,243.72 L315.1,243.7 L314.6,243.67 L314.1,243.64 L313.6,243.62 L313.1,243.59 L312.6,243.56 L312.1,243.54 L311.6,243.51 L311.1,243.49 L310.6,243.46 L310.1,243.43 L309.6,243.41 L309.1,243.38 L308.6,243.35 L308.1,243.33 L307.6,243.3 L307.1,243.27 L306.6,243.25 L306.1,243.22 L305.6,243.19 L305.1,243.17 L304.6,243.14 L304.1,243.11 L303.6,243.09 L303.1,243.06 L302.6,243.03 L302.1,243.01 L301.6,242.98 L301.1,242.96 L300.6,242.93 L300.1,242.9 L299.6,242.88 L299.1,242.85 L298.6,242.82 Z" fill="url(#pp)" stroke="#8a18cc" stroke-width="0.75"/><path d="M309.6,243.14 L310.1,243.05 L310.6,242.92 L311.1,242.74 L311.6,242.48 L312.1,242.13 L312.6,241.67 L313.1,241.07 L313.6,240.31 L314.1,239.35 L314.6,238.17 L315.1,236.74 L315.6,235.02 L316.1,233 L316.6,230.66 L317.1,228 L317.6,225.03 L318.1,221.75 L318.6,218.22 L319.1,214.47 L319.6,210.59 L320.1,206.65 L320.6,202.75 L321.1,199 L321.6,195.51 L322.1,192.38 L322.6,189.72 L323.1,187.63 L323.6,186.17 L324.1,185.41 L324.6,185.36 L325.1,186.04 L325.6,187.41 L326.1,189.44 L326.6,192.04 L327.1,195.14 L327.6,198.62 L328.1,202.38 L328.6,206.31 L329.1,210.3 L329.6,214.26 L330.1,218.09 L330.6,221.72 L331.1,225.1 L331.6,228.2 L332.1,230.97 L332.6,233.43 L333.1,235.56 L333.6,237.39 L334.1,238.93 L334.6,240.22 L335.1,241.27 L335.6,242.12 L336.1,242.81 L336.6,243.34 L337.1,243.77 L337.6,244.09 L338.1,244.34 L338.6,244.54 L339.1,244.69 L339.1,244.97 L338.6,244.94 L338.1,244.92 L337.6,244.89 L337.1,244.86 L336.6,244.84 L336.1,244.81 L335.6,244.78 L335.1,244.76 L334.6,244.73 L334.1,244.7 L333.6,244.68 L333.1,244.65 L332.6,244.62 L332.1,244.6 L331.6,244.57 L331.1,244.55 L330.6,244.52 L330.1,244.49 L329.6,244.47 L329.1,244.44 L328.6,244.41 L328.1,244.39 L327.6,244.36 L327.1,244.33 L326.6,244.31 L326.1,244.28 L325.6,244.25 L325.1,244.23 L324.6,244.2 L324.1,244.17 L323.6,244.15 L323.1,244.12 L322.6,244.09 L322.1,244.07 L321.6,244.04 L321.1,244.02 L320.6,243.99 L320.1,243.96 L319.6,243.94 L319.1,243.91 L318.6,243.88 L318.1,243.86 L317.6,243.83 L317.1,243.8 L316.6,243.78 L316.1,243.75 L315.6,243.72 L315.1,243.7 L314.6,243.67 L314.1,243.64 L313.6,243.62 L313.1,243.59 L312.6,243.56 L312.1,243.54 L311.6,243.51 L311.1,243.49 L310.6,243.46 L310.1,243.43 L309.6,243.41 Z" fill="url(#pg)" stroke="#00e000" stroke-width="0.75"/><path d="M207.6,238 L208.1,238.03 L208.6,238.05 L209.1,238.08 L209.6,238.11 L210.1,238.13 L210.6,238.16 L211.1,238.19 L211.6,238.21 L212.1,238.24 L212.6,238.26 L213.1,238.29 L213.6,238.32 L214.1,238.34 L214.6,238.37 L215.1,238.4 L215.6,238.42 L216.1,238.45 L216.6,238.48 L217.1,238.5 L217.6,238.53 L218.1,238.55 L218.6,238.58 L219.1,238.6 L219.6,238.63 L220.1,238.65 L220.6,238.68 L221.1,238.7 L221.6,238.72 L222.1,238.74 L222.6,238.76 L223.1,238.78 L223.6,238.79 L224.1,238.8 L224.6,238.8 L225.1,238.8 L225.6,238.8 L226.1,238.78 L226.6,238.76 L227.1,238.73 L227.6,238.68 L228.1,238.62 L228.6,238.54 L229.1,238.44 L229.6,238.31 L230.1,238.16 L230.6,237.98 L231.1,237.77 L231.6,237.52 L232.1,237.22 L232.6,236.88 L233.1,236.49 L233.6,236.05 L234.1,235.55 L234.6,234.98 L235.1,234.35 L235.6,233.66 L236.1,232.9 L236.6,232.07 L237.1,231.17 L237.6,230.2 L238.1,229.17 L238.6,228.08 L239.1,226.94 L239.6,225.75 L240.1,224.52 L240.6,223.26 L241.1,221.98 L241.6,220.7 L242.1,219.43 L242.6,218.18 L243.1,216.96 L243.6,215.8 L244.1,214.71 L244.6,213.7 L245.1,212.78 L245.6,211.98 L246.1,211.3 L246.6,210.74 L247.1,210.33 L247.6,210.07 L248.1,209.96 L248.6,210 L249.1,210.2 L249.6,210.54 L250.1,211.03 L250.6,211.67 L251.1,212.43 L251.6,213.31 L252.1,214.3 L252.6,215.38 L253.1,216.54 L253.6,217.76 L254.1,219.04 L254.6,220.35 L255.1,221.68 L255.6,223.01 L256.1,224.34 L256.6,225.64 L257.1,226.92 L257.6,228.16 L258.1,229.34 L258.6,230.47 L259.1,231.54 L259.6,232.55 L260.1,233.49 L260.6,234.36 L261.1,235.16 L261.6,235.89 L262.1,236.56 L262.6,237.17 L263.1,237.71 L263.6,238.2 L264.1,238.63 L264.6,239.01 L265.1,239.35 L265.6,239.65 L266.1,239.91 L266.6,240.14 L267.1,240.33 L267.6,240.51 L268.1,240.65 L268.6,240.78 L269.1,240.89 L269.6,240.99 L270.1,241.08 L270.6,241.15 L271.1,241.22 L271.6,241.27 L272.1,241.33 L272.6,241.37 L273.1,241.41 L273.6,241.45 L274.1,241.49 L274.6,241.52 L275.1,241.56 L275.6,241.59 L276.1,241.62 L276.6,241.65 L277.1,241.67 L277.6,241.7 L278.1,241.72 L278.6,241.74 L279.1,241.76 L279.6,241.78 L280.1,241.79 L280.6,241.79 L281.1,241.78 L281.6,241.76 L282.1,241.72 L282.6,241.66 L283.1,241.57 L283.6,241.45 L284.1,241.28 L284.6,241.05 L285.1,240.76 L285.6,240.39 L286.1,239.94 L286.6,239.39 L287.1,238.74 L287.6,237.97 L288.1,237.08 L288.6,236.07 L289.1,234.95 L289.6,233.73 L290.1,232.41 L290.6,231.03 L291.1,229.62 L291.6,228.19 L292.1,226.79 L292.6,225.47 L293.1,224.25 L293.6,223.18 L294.1,222.3 L294.6,221.63 L295.1,221.21 L295.6,221.04 L296.1,221.13 L296.6,221.48 L297.1,222.06 L297.6,222.86 L298.1,223.85 L298.6,224.97 L299.1,226.19 L299.6,227.46 L300.1,228.72 L300.6,229.93 L301.1,231.04 L301.6,232 L302.1,232.77 L302.6,233.33 L303.1,233.65 L303.6,233.71 L304.1,233.49 L304.6,233 L305.1,232.25 L305.6,231.26 L306.1,230.04 L306.6,228.64 L307.1,227.1 L307.6,225.47 L308.1,223.8 L308.6,222.15 L309.1,220.57 L309.6,219.13 L310.1,217.87 L310.6,216.82 L311.1,216.02 L311.6,215.47 L312.1,215.17 L312.6,215.1 L313.1,215.22 L313.6,215.47 L314.1,215.8 L314.6,216.12 L315.1,216.35 L315.6,216.42 L316.1,216.25 L316.6,215.77 L317.1,214.93 L317.6,213.7 L318.1,212.06 L318.6,210.04 L319.1,207.65 L319.6,204.98 L320.1,202.09 L320.6,199.1 L321.1,196.11 L321.6,193.25 L322.1,190.64 L322.6,188.4 L323.1,186.63 L323.6,185.43 L324.1,184.86 L324.6,184.97 L325.1,185.76 L325.6,187.21 L326.1,189.3 L326.6,191.95 L327.1,195.07 L327.6,198.58 L328.1,202.35 L328.6,206.29 L329.1,210.29 L329.6,214.25 L330.1,218.08 L330.6,221.72 L331.1,225.1 L331.6,228.19 L332.1,230.97 L332.6,233.43 L333.1,235.56 L333.6,237.39 L334.1,238.93 L334.6,240.22 L335.1,241.27 L335.6,242.12 L336.1,242.81 L336.6,243.34 L337.1,243.77 L337.6,244.09 L338.1,244.34 L338.6,244.54 L339.1,244.69 L339.6,244.8 L340.1,244.89 L340.6,244.96 L341.1,245.02 L341.6,245.06 L342.1,245.1 L342.6,245.14 L343.1,245.17 L343.6,245.2 L344.1,245.23 L344.6,245.26 L345.1,245.29 L345.6,245.31 L346.1,245.34 L346.6,245.37 L347.1,245.39 L347.6,245.42 L348.1,245.45 L348.6,245.47 L349.1,245.5 L349.6,245.53 L350.1,245.55 L350.6,245.58 L351.1,245.61 L351.6,245.63 L352.1,245.66" stroke="#1ee8f4" stroke-width="1.2" fill="none"/><path d="M207.6,238 L208.1,238.03 L208.6,238.05 L209.1,238.08 L209.6,238.11 L210.1,238.13 L210.6,238.16 L211.1,238.19 L211.6,238.21 L212.1,238.24 L212.6,238.26 L213.1,238.29 L213.6,238.32 L214.1,238.34 L214.6,238.37 L215.1,238.4 L215.6,238.42 L216.1,238.45 L216.6,238.48 L217.1,238.5 L217.6,238.53 L218.1,238.56 L218.6,238.58 L219.1,238.61 L219.6,238.64 L220.1,238.66 L220.6,238.69 L221.1,238.72 L221.6,238.74 L222.1,238.77 L222.6,238.79 L223.1,238.82 L223.6,238.85 L224.1,238.87 L224.6,238.9 L225.1,238.93 L225.6,238.95 L226.1,238.98 L226.6,239.01 L227.1,239.03 L227.6,239.06 L228.1,239.09 L228.6,239.11 L229.1,239.14 L229.6,239.17 L230.1,239.19 L230.6,239.22 L231.1,239.25 L231.6,239.27 L232.1,239.3 L232.6,239.32 L233.1,239.35 L233.6,239.38 L234.1,239.4 L234.6,239.43 L235.1,239.46 L235.6,239.48 L236.1,239.51 L236.6,239.54 L237.1,239.56 L237.6,239.59 L238.1,239.62 L238.6,239.64 L239.1,239.67 L239.6,239.7 L240.1,239.72 L240.6,239.75 L241.1,239.78 L241.6,239.8 L242.1,239.83 L242.6,239.85 L243.1,239.88 L243.6,239.91 L244.1,239.93 L244.6,239.96 L245.1,239.99 L245.6,240.01 L246.1,240.04 L246.6,240.07 L247.1,240.09 L247.6,240.12 L248.1,240.15 L248.6,240.17 L249.1,240.2 L249.6,240.23 L250.1,240.25 L250.6,240.28 L251.1,240.31 L251.6,240.33 L252.1,240.36 L252.6,240.38 L253.1,240.41 L253.6,240.44 L254.1,240.46 L254.6,240.49 L255.1,240.52 L255.6,240.54 L256.1,240.57 L256.6,240.6 L257.1,240.62 L257.6,240.65 L258.1,240.68 L258.6,240.7 L259.1,240.73 L259.6,240.76 L260.1,240.78 L260.6,240.81 L261.1,240.84 L261.6,240.86 L262.1,240.89 L262.6,240.91 L263.1,240.94 L263.6,240.97 L264.1,240.99 L264.6,241.02 L265.1,241.05 L265.6,241.07 L266.1,241.1 L266.6,241.13 L267.1,241.15 L267.6,241.18 L268.1,241.21 L268.6,241.23 L269.1,241.26 L269.6,241.29 L270.1,241.31 L270.6,241.34 L271.1,241.37 L271.6,241.39 L272.1,241.42 L272.6,241.44 L273.1,241.47 L273.6,241.5 L274.1,241.52 L274.6,241.55 L275.1,241.58 L275.6,241.6 L276.1,241.63 L276.6,241.66 L277.1,241.68 L277.6,241.71 L278.1,241.74 L278.6,241.76 L279.1,241.79 L279.6,241.82 L280.1,241.84 L280.6,241.87 L281.1,241.9 L281.6,241.92 L282.1,241.95 L282.6,241.97 L283.1,242 L283.6,242.03 L284.1,242.05 L284.6,242.08 L285.1,242.11 L285.6,242.13 L286.1,242.16 L286.6,242.19 L287.1,242.21 L287.6,242.24 L288.1,242.27 L288.6,242.29 L289.1,242.32 L289.6,242.35 L290.1,242.37 L290.6,242.4 L291.1,242.43 L291.6,242.45 L292.1,242.48 L292.6,242.5 L293.1,242.53 L293.6,242.56 L294.1,242.58 L294.6,242.61 L295.1,242.64 L295.6,242.66 L296.1,242.69 L296.6,242.72 L297.1,242.74 L297.6,242.77 L298.1,242.8 L298.6,242.82 L299.1,242.85 L299.6,242.88 L300.1,242.9 L300.6,242.93 L301.1,242.96 L301.6,242.98 L302.1,243.01 L302.6,243.03 L303.1,243.06 L303.6,243.09 L304.1,243.11 L304.6,243.14 L305.1,243.17 L305.6,243.19 L306.1,243.22 L306.6,243.25 L307.1,243.27 L307.6,243.3 L308.1,243.33 L308.6,243.35 L309.1,243.38 L309.6,243.41 L310.1,243.43 L310.6,243.46 L311.1,243.49 L311.6,243.51 L312.1,243.54 L312.6,243.56 L313.1,243.59 L313.6,243.62 L314.1,243.64 L314.6,243.67 L315.1,243.7 L315.6,243.72 L316.1,243.75 L316.6,243.78 L317.1,243.8 L317.6,243.83 L318.1,243.86 L318.6,243.88 L319.1,243.91 L319.6,243.94 L320.1,243.96 L320.6,243.99 L321.1,244.02 L321.6,244.04 L322.1,244.07 L322.6,244.09 L323.1,244.12 L323.6,244.15 L324.1,244.17 L324.6,244.2 L325.1,244.23 L325.6,244.25 L326.1,244.28 L326.6,244.31 L327.1,244.33 L327.6,244.36 L328.1,244.39 L328.6,244.41 L329.1,244.44 L329.6,244.47 L330.1,244.49 L330.6,244.52 L331.1,244.55 L331.6,244.57 L332.1,244.6 L332.6,244.62 L333.1,244.65 L333.6,244.68 L334.1,244.7 L334.6,244.73 L335.1,244.76 L335.6,244.78 L336.1,244.81 L336.6,244.84 L337.1,244.86 L337.6,244.89 L338.1,244.92 L338.6,244.94 L339.1,244.97 L339.6,245 L340.1,245.02 L340.6,245.05 L341.1,245.08 L341.6,245.1 L342.1,245.13 L342.6,245.16 L343.1,245.18 L343.6,245.21 L344.1,245.23 L344.6,245.26 L345.1,245.29 L345.6,245.31 L346.1,245.34 L346.6,245.37 L347.1,245.39 L347.6,245.42 L348.1,245.45 L348.6,245.47 L349.1,245.5 L349.6,245.53 L350.1,245.55 L350.6,245.58 L351.1,245.61 L351.6,245.63 L352.1,245.66" stroke="#3030e0" stroke-width="1.2" fill="none"/><text x="252.4" y="213.4" font-size="6.9" text-anchor="start" fill="#2020d0" stroke="#2020d0" stroke-width="0.22" >Co 2p<tspan font-size="6.2" dy="1.2">1/2</tspan></text><text x="282.8" y="223.6" font-size="6.6" text-anchor="start" fill="#ff2020" stroke="#ff2020" stroke-width="0.22" >Sat</text><text x="300.5" y="216" font-size="6.6" text-anchor="start" fill="#8a1ad0" stroke="#8a1ad0" stroke-width="0.22" >Sat</text><text x="327.1" y="189.8" font-size="6.9" text-anchor="start" fill="#10d010" stroke="#10d010" stroke-width="0.22" >Co 2p<tspan font-size="6.2" dy="1.2">3/2</tspan></text><rect x="207.6" y="156.1" width="144.5" height="111.2" fill="none" stroke="#3a3a3a" stroke-width="1"/><text x="361.7" y="155.5" font-size="14.1" text-anchor="start" fill="#111" stroke="#111" stroke-width="0.35" >(f)</text><text x="397.3" y="277.8" font-size="6.6" text-anchor="middle" fill="#111" stroke="#111" stroke-width="0.22" >410</text><text x="416.9" y="277.8" font-size="6.6" text-anchor="middle" fill="#111" stroke="#111" stroke-width="0.22" >408</text><text x="436.5" y="277.8" font-size="6.6" text-anchor="middle" fill="#111" stroke="#111" stroke-width="0.22" >406</text><text x="456.1" y="277.8" font-size="6.6" text-anchor="middle" fill="#111" stroke="#111" stroke-width="0.22" >404</text><text x="475.7" y="277.8" font-size="6.6" text-anchor="middle" fill="#111" stroke="#111" stroke-width="0.22" >402</text><text x="495.3" y="277.8" font-size="6.6" text-anchor="middle" fill="#111" stroke="#111" stroke-width="0.22" >400</text><text x="514.9" y="277.8" font-size="6.6" text-anchor="middle" fill="#111" stroke="#111" stroke-width="0.22" >398</text><text x="534.5" y="277.8" font-size="6.6" text-anchor="middle" fill="#111" stroke="#111" stroke-width="0.22" >396</text><path d="M397.3,268.6 v1.6 M416.9,268.6 v1.6 M436.5,268.6 v1.6 M456.1,268.6 v1.6 M475.7,268.6 v1.6 M495.3,268.6 v1.6 M514.9,268.6 v1.6 M534.5,268.6 v1.6 M407.1,268.6 v1.1199999999999999 M426.7,268.6 v1.1199999999999999 M446.3,268.6 v1.1199999999999999 M465.9,268.6 v1.1199999999999999 M485.5,268.6 v1.1199999999999999 M505.1,268.6 v1.1199999999999999 M524.7,268.6 v1.1199999999999999 " stroke="#3a3a3a" stroke-width="0.8" fill="none"/><text x="470.8" y="290" font-size="8.35" text-anchor="middle" fill="#111" stroke="#111" stroke-width="0.22" >Binding Energy (eV)</text><text x="0" y="0" font-size="8.2" text-anchor="middle" fill="#111" stroke="#111" stroke-width="0.22" transform="translate(392.4,211.9) rotate(-90)">Intensity (a.u.)</text><text x="399.2" y="164" font-size="6.9" text-anchor="start" fill="#111" stroke="#111" stroke-width="0.22" >N 1s</text><g fill="#f0f0f0" stroke="#d0d0d0" stroke-width="0.4"><circle cx="473.13" cy="205.92" r="0.85"/><circle cx="500.61" cy="166.37" r="0.85"/><circle cx="454.42" cy="230.2" r="0.85"/><circle cx="463.59" cy="227.11" r="0.85"/><circle cx="520.74" cy="231.41" r="0.85"/><circle cx="401.44" cy="240.91" r="0.85"/><circle cx="437.21" cy="225.57" r="0.85"/><circle cx="440.33" cy="227.21" r="0.85"/><circle cx="542.95" cy="249.33" r="0.85"/><circle cx="431.22" cy="226.42" r="0.85"/><circle cx="404.88" cy="240.72" r="0.85"/><circle cx="458.8" cy="227.09" r="0.85"/><circle cx="492.83" cy="171.27" r="0.85"/><circle cx="420.4" cy="235.77" r="0.85"/><circle cx="520.6" cy="233.79" r="0.85"/><circle cx="426.68" cy="231.46" r="0.85"/><circle cx="500.82" cy="164.95" r="0.85"/><circle cx="421.62" cy="234.38" r="0.85"/><circle cx="526.73" cy="243.54" r="0.85"/><circle cx="427.39" cy="229.91" r="0.85"/><circle cx="504.78" cy="169.91" r="0.85"/><circle cx="520.45" cy="230.63" r="0.85"/><circle cx="435.22" cy="226.65" r="0.85"/><circle cx="411.55" cy="238.34" r="0.85"/><circle cx="483.58" cy="184.97" r="0.85"/><circle cx="470.86" cy="211.55" r="0.85"/><circle cx="467.98" cy="219.2" r="0.85"/><circle cx="512.07" cy="197.87" r="0.85"/><circle cx="465.61" cy="226.26" r="0.85"/><circle cx="470.57" cy="212.25" r="0.85"/><circle cx="469.14" cy="216.27" r="0.85"/><circle cx="464.37" cy="228.36" r="0.85"/><circle cx="457.24" cy="230.59" r="0.85"/><circle cx="421.49" cy="236.2" r="0.85"/><circle cx="441.12" cy="224.36" r="0.85"/><circle cx="436.67" cy="224.95" r="0.85"/><circle cx="434.23" cy="225.86" r="0.85"/><circle cx="512.29" cy="201.87" r="0.85"/><circle cx="414.65" cy="238.95" r="0.85"/><circle cx="427.99" cy="230.73" r="0.85"/><circle cx="474.86" cy="202.69" r="0.85"/><circle cx="443.63" cy="225.91" r="0.85"/><circle cx="433.06" cy="226.91" r="0.85"/><circle cx="452.51" cy="227.99" r="0.85"/><circle cx="471.3" cy="213.27" r="0.85"/><circle cx="496.45" cy="166.82" r="0.85"/><circle cx="539.94" cy="248.88" r="0.85"/><circle cx="522.49" cy="237.97" r="0.85"/><circle cx="460.78" cy="226.65" r="0.85"/><circle cx="463.94" cy="229.05" r="0.85"/><circle cx="458.69" cy="229.4" r="0.85"/><circle cx="432.88" cy="226.38" r="0.85"/><circle cx="536.96" cy="247.81" r="0.85"/><circle cx="408.02" cy="235.56" r="0.85"/><circle cx="427.92" cy="230.86" r="0.85"/><circle cx="494.65" cy="168.24" r="0.85"/><circle cx="484.08" cy="181.26" r="0.85"/><circle cx="438.68" cy="226.42" r="0.85"/><circle cx="534.8" cy="246.39" r="0.85"/><circle cx="457.78" cy="227.9" r="0.85"/><circle cx="485.05" cy="180.53" r="0.85"/><circle cx="411.29" cy="239.49" r="0.85"/><circle cx="528.07" cy="244.26" r="0.85"/><circle cx="413.04" cy="237.69" r="0.85"/><circle cx="455.53" cy="233.86" r="0.85"/><circle cx="527.29" cy="243.78" r="0.85"/><circle cx="535.97" cy="241.63" r="0.85"/><circle cx="529.98" cy="244.58" r="0.85"/><circle cx="518.83" cy="227.21" r="0.85"/><circle cx="432.06" cy="227.59" r="0.85"/><circle cx="402.65" cy="238.56" r="0.85"/><circle cx="463.96" cy="225.5" r="0.85"/><circle cx="407.22" cy="241.35" r="0.85"/><circle cx="538.24" cy="245.9" r="0.85"/><circle cx="399.2" cy="238.46" r="0.85"/><circle cx="445.52" cy="228.23" r="0.85"/><circle cx="427.68" cy="229.21" r="0.85"/><circle cx="400" cy="241.95" r="0.85"/><circle cx="470.87" cy="214.53" r="0.85"/><circle cx="409.1" cy="241.57" r="0.85"/><circle cx="529.39" cy="246.03" r="0.85"/><circle cx="498.39" cy="165.41" r="0.85"/><circle cx="452.02" cy="232.64" r="0.85"/><circle cx="520.87" cy="234.91" r="0.85"/><circle cx="514.34" cy="210.72" r="0.85"/><circle cx="445.66" cy="228.84" r="0.85"/><circle cx="521.7" cy="234.64" r="0.85"/><circle cx="533.69" cy="246.59" r="0.85"/><circle cx="488.5" cy="177.21" r="0.85"/><circle cx="449.36" cy="230.11" r="0.85"/><circle cx="529.49" cy="245.73" r="0.85"/><circle cx="535.66" cy="246.73" r="0.85"/><circle cx="448.7" cy="225.46" r="0.85"/><circle cx="410.6" cy="237.5" r="0.85"/><circle cx="524.7" cy="240.54" r="0.85"/><circle cx="495.06" cy="170.58" r="0.85"/><circle cx="431.87" cy="222.43" r="0.85"/><circle cx="480.77" cy="189.6" r="0.85"/><circle cx="443" cy="228.35" r="0.85"/><circle cx="532.2" cy="246.62" r="0.85"/><circle cx="447.95" cy="230.16" r="0.85"/><circle cx="426.65" cy="228.17" r="0.85"/><circle cx="404.31" cy="242.41" r="0.85"/><circle cx="448.01" cy="224.81" r="0.85"/><circle cx="542.46" cy="246.71" r="0.85"/><circle cx="429.88" cy="228.07" r="0.85"/><circle cx="464.88" cy="225.43" r="0.85"/><circle cx="539.93" cy="243.7" r="0.85"/><circle cx="398.98" cy="241.7" r="0.85"/><circle cx="441.08" cy="227.76" r="0.85"/><circle cx="517.89" cy="222.75" r="0.85"/><circle cx="411.98" cy="237.34" r="0.85"/><circle cx="533.53" cy="244.71" r="0.85"/><circle cx="519.85" cy="231.26" r="0.85"/><circle cx="418.89" cy="233.77" r="0.85"/><circle cx="484.48" cy="183.15" r="0.85"/><circle cx="479.1" cy="193.55" r="0.85"/><circle cx="499.28" cy="167.38" r="0.85"/><circle cx="442.8" cy="226.48" r="0.85"/><circle cx="454.09" cy="232.51" r="0.85"/><circle cx="433.16" cy="226.17" r="0.85"/><circle cx="440.62" cy="226.23" r="0.85"/><circle cx="423.66" cy="230.11" r="0.85"/><circle cx="530.04" cy="240.62" r="0.85"/><circle cx="527.56" cy="244.44" r="0.85"/><circle cx="450.56" cy="231.14" r="0.85"/><circle cx="499.21" cy="166.96" r="0.85"/><circle cx="469.58" cy="215.3" r="0.85"/><circle cx="438.99" cy="227.07" r="0.85"/><circle cx="449.04" cy="228.53" r="0.85"/><circle cx="538.91" cy="246.95" r="0.85"/><circle cx="447.85" cy="230.73" r="0.85"/><circle cx="482.49" cy="186.72" r="0.85"/><circle cx="535.98" cy="247.5" r="0.85"/><circle cx="441.45" cy="227.31" r="0.85"/><circle cx="516.11" cy="214.19" r="0.85"/><circle cx="414.66" cy="238.35" r="0.85"/><circle cx="505.07" cy="173.96" r="0.85"/><circle cx="515.78" cy="217.06" r="0.85"/><circle cx="520.27" cy="230.68" r="0.85"/><circle cx="540.36" cy="245.54" r="0.85"/><circle cx="501.8" cy="165.78" r="0.85"/><circle cx="540.67" cy="246.88" r="0.85"/><circle cx="438.64" cy="222.84" r="0.85"/><circle cx="474.15" cy="201.13" r="0.85"/><circle cx="429.25" cy="228.34" r="0.85"/><circle cx="410.2" cy="238.04" r="0.85"/><circle cx="462.08" cy="230.27" r="0.85"/><circle cx="503.07" cy="168.87" r="0.85"/><circle cx="511.65" cy="196.19" r="0.85"/><circle cx="400.48" cy="242.57" r="0.85"/><circle cx="535.56" cy="244.7" r="0.85"/><circle cx="434.1" cy="224.42" r="0.85"/><circle cx="440.66" cy="225.08" r="0.85"/><circle cx="519.53" cy="229.22" r="0.85"/><circle cx="528.56" cy="245.29" r="0.85"/><circle cx="505.52" cy="174.28" r="0.85"/><circle cx="446.59" cy="227.91" r="0.85"/><circle cx="465.58" cy="226.21" r="0.85"/><circle cx="519.85" cy="232.19" r="0.85"/><circle cx="450.17" cy="229.73" r="0.85"/><circle cx="515.57" cy="211.45" r="0.85"/><circle cx="512.17" cy="200.98" r="0.85"/><circle cx="466.43" cy="222.4" r="0.85"/><circle cx="528.9" cy="245.71" r="0.85"/><circle cx="454.14" cy="231.54" r="0.85"/><circle cx="507.49" cy="182.42" r="0.85"/><circle cx="491.4" cy="168.48" r="0.85"/><circle cx="446.36" cy="226.12" r="0.85"/><circle cx="475.64" cy="199.66" r="0.85"/></g><path d="M401.8,243.12 L402.3,243.1 L402.8,243.07 L403.3,243.04 L403.8,243.01 L404.3,242.97 L404.8,242.93 L405.3,242.88 L405.8,242.83 L406.3,242.77 L406.8,242.71 L407.3,242.64 L407.8,242.56 L408.3,242.48 L408.8,242.38 L409.3,242.28 L409.8,242.18 L410.3,242.06 L410.8,241.94 L411.3,241.8 L411.8,241.66 L412.3,241.5 L412.8,241.34 L413.3,241.16 L413.8,240.98 L414.3,240.78 L414.8,240.57 L415.3,240.36 L415.8,240.13 L416.3,239.88 L416.8,239.63 L417.3,239.37 L417.8,239.09 L418.3,238.8 L418.8,238.51 L419.3,238.2 L419.8,237.88 L420.3,237.55 L420.8,237.22 L421.3,236.87 L421.8,236.52 L422.3,236.16 L422.8,235.8 L423.3,235.43 L423.8,235.06 L424.3,234.68 L424.8,234.3 L425.3,233.92 L425.8,233.55 L426.3,233.17 L426.8,232.8 L427.3,232.43 L427.8,232.07 L428.3,231.72 L428.8,231.37 L429.3,231.04 L429.8,230.72 L430.3,230.41 L430.8,230.11 L431.3,229.84 L431.8,229.57 L432.3,229.33 L432.8,229.11 L433.3,228.9 L433.8,228.72 L434.3,228.56 L434.8,228.42 L435.3,228.31 L435.8,228.22 L436.3,228.16 L436.8,228.12 L437.3,228.11 L437.8,228.12 L438.3,228.16 L438.8,228.22 L439.3,228.31 L439.8,228.43 L440.3,228.57 L440.8,228.73 L441.3,228.91 L441.8,229.12 L442.3,229.35 L442.8,229.6 L443.3,229.87 L443.8,230.15 L444.3,230.45 L444.8,230.77 L445.3,231.11 L445.8,231.45 L446.3,231.81 L446.8,232.18 L447.3,232.55 L447.8,232.94 L448.3,233.32 L448.8,233.72 L449.3,234.12 L449.8,234.51 L450.3,234.91 L450.8,235.31 L451.3,235.71 L451.8,236.1 L452.3,236.49 L452.8,236.88 L453.3,237.26 L453.8,237.63 L454.3,237.99 L454.8,238.35 L455.3,238.7 L455.8,239.03 L456.3,239.36 L456.8,239.68 L457.3,239.99 L457.8,240.28 L458.3,240.57 L458.8,240.84 L459.3,241.1 L459.8,241.36 L460.3,241.6 L460.8,241.82 L461.3,242.04 L461.8,242.25 L462.3,242.45 L462.8,242.63 L463.3,242.81 L463.8,242.97 L464.3,243.13 L464.8,243.28 L465.3,243.42 L465.8,243.55 L466.3,243.67 L466.8,243.79 L467.3,243.9 L467.8,244 L468.3,244.1 L468.8,244.19 L469.3,244.27 L469.8,244.35 L470.3,244.42 L470.8,244.49 L471.3,244.56 L471.8,244.62 L472.3,244.68 L472.8,244.74 L473.3,244.79 L473.3,245.05 L472.8,245.03 L472.3,245.01 L471.8,244.99 L471.3,244.97 L470.8,244.95 L470.3,244.94 L469.8,244.92 L469.3,244.9 L468.8,244.88 L468.3,244.87 L467.8,244.85 L467.3,244.83 L466.8,244.82 L466.3,244.8 L465.8,244.78 L465.3,244.77 L464.8,244.75 L464.3,244.74 L463.8,244.72 L463.3,244.71 L462.8,244.7 L462.3,244.68 L461.8,244.67 L461.3,244.65 L460.8,244.64 L460.3,244.63 L459.8,244.61 L459.3,244.6 L458.8,244.59 L458.3,244.57 L457.8,244.56 L457.3,244.55 L456.8,244.54 L456.3,244.52 L455.8,244.51 L455.3,244.5 L454.8,244.49 L454.3,244.48 L453.8,244.47 L453.3,244.45 L452.8,244.44 L452.3,244.43 L451.8,244.42 L451.3,244.41 L450.8,244.4 L450.3,244.38 L449.8,244.37 L449.3,244.36 L448.8,244.35 L448.3,244.34 L447.8,244.33 L447.3,244.32 L446.8,244.31 L446.3,244.3 L445.8,244.29 L445.3,244.28 L444.8,244.26 L444.3,244.25 L443.8,244.24 L443.3,244.23 L442.8,244.22 L442.3,244.21 L441.8,244.2 L441.3,244.19 L440.8,244.18 L440.3,244.17 L439.8,244.16 L439.3,244.15 L438.8,244.14 L438.3,244.13 L437.8,244.12 L437.3,244.11 L436.8,244.1 L436.3,244.09 L435.8,244.08 L435.3,244.07 L434.8,244.06 L434.3,244.05 L433.8,244.03 L433.3,244.02 L432.8,244.01 L432.3,244 L431.8,243.99 L431.3,243.98 L430.8,243.97 L430.3,243.96 L429.8,243.95 L429.3,243.94 L428.8,243.93 L428.3,243.92 L427.8,243.91 L427.3,243.9 L426.8,243.89 L426.3,243.88 L425.8,243.87 L425.3,243.86 L424.8,243.85 L424.3,243.84 L423.8,243.83 L423.3,243.82 L422.8,243.81 L422.3,243.8 L421.8,243.79 L421.3,243.78 L420.8,243.77 L420.3,243.76 L419.8,243.75 L419.3,243.74 L418.8,243.73 L418.3,243.72 L417.8,243.71 L417.3,243.7 L416.8,243.69 L416.3,243.68 L415.8,243.67 L415.3,243.66 L414.8,243.65 L414.3,243.64 L413.8,243.63 L413.3,243.62 L412.8,243.61 L412.3,243.6 L411.8,243.59 L411.3,243.58 L410.8,243.57 L410.3,243.56 L409.8,243.55 L409.3,243.54 L408.8,243.53 L408.3,243.52 L407.8,243.51 L407.3,243.5 L406.8,243.49 L406.3,243.48 L405.8,243.47 L405.3,243.46 L404.8,243.45 L404.3,243.44 L403.8,243.43 L403.3,243.42 L402.8,243.41 L402.3,243.4 L401.8,243.39 Z" fill="url(#fg)" stroke="#00e000" stroke-width="0.75"/><path d="M446.8,244.04 L447.3,244.02 L447.8,243.99 L448.3,243.95 L448.8,243.91 L449.3,243.87 L449.8,243.81 L450.3,243.75 L450.8,243.69 L451.3,243.61 L451.8,243.53 L452.3,243.43 L452.8,243.32 L453.3,243.21 L453.8,243.07 L454.3,242.93 L454.8,242.77 L455.3,242.59 L455.8,242.4 L456.3,242.19 L456.8,241.96 L457.3,241.71 L457.8,241.43 L458.3,241.14 L458.8,240.82 L459.3,240.47 L459.8,240.09 L460.3,239.69 L460.8,239.25 L461.3,238.79 L461.8,238.29 L462.3,237.75 L462.8,237.19 L463.3,236.58 L463.8,235.94 L464.3,235.26 L464.8,234.54 L465.3,233.78 L465.8,232.98 L466.3,232.14 L466.8,231.26 L467.3,230.34 L467.8,229.37 L468.3,228.37 L468.8,227.32 L469.3,226.24 L469.8,225.11 L470.3,223.95 L470.8,222.76 L471.3,221.53 L471.8,220.26 L472.3,218.97 L472.8,217.65 L473.3,216.3 L473.8,214.94 L474.3,213.55 L474.8,212.15 L475.3,210.74 L475.8,209.32 L476.3,207.9 L476.8,206.48 L477.3,205.07 L477.8,203.66 L478.3,202.28 L478.8,200.91 L479.3,199.57 L479.8,198.26 L480.3,196.98 L480.8,195.75 L481.3,194.56 L481.8,193.42 L482.3,192.33 L482.8,191.31 L483.3,190.35 L483.8,189.46 L484.3,188.64 L484.8,187.89 L485.3,187.23 L485.8,186.65 L486.3,186.15 L486.8,185.74 L487.3,185.42 L487.8,185.2 L488.3,185.06 L488.8,185.02 L489.3,185.08 L489.8,185.22 L490.3,185.46 L490.8,185.8 L491.3,186.22 L491.8,186.73 L492.3,187.33 L492.8,188.02 L493.3,188.79 L493.8,189.63 L494.3,190.55 L494.8,191.54 L495.3,192.6 L495.8,193.73 L496.3,194.91 L496.8,196.14 L497.3,197.42 L497.8,198.75 L498.3,200.12 L498.8,201.52 L499.3,202.95 L499.8,204.4 L500.3,205.87 L500.8,207.36 L501.3,208.85 L501.8,210.35 L502.3,211.85 L502.8,213.35 L503.3,214.83 L503.8,216.31 L504.3,217.76 L504.8,219.2 L505.3,220.61 L505.8,222 L506.3,223.36 L506.8,224.68 L507.3,225.98 L507.8,227.23 L508.3,228.45 L508.8,229.64 L509.3,230.78 L509.8,231.88 L510.3,232.94 L510.8,233.95 L511.3,234.93 L511.8,235.86 L512.3,236.75 L512.8,237.6 L513.3,238.4 L513.8,239.17 L514.3,239.9 L514.8,240.58 L515.3,241.23 L515.8,241.84 L516.3,242.42 L516.8,242.96 L517.3,243.46 L517.8,243.94 L518.3,244.38 L518.8,244.79 L519.3,245.18 L519.8,245.54 L520.3,245.87 L520.8,246.18 L521.3,246.47 L521.8,246.74 L522.3,246.98 L522.8,247.21 L523.3,247.42 L523.8,247.61 L524.3,247.79 L524.8,247.95 L525.3,248.1 L525.8,248.24 L526.3,248.36 L526.8,248.48 L527.3,248.59 L527.8,248.68 L528.3,248.77 L528.8,248.85 L529.3,248.93 L529.8,249 L530.3,249.06 L530.8,249.12 L531.3,249.17 L531.3,249.43 L530.8,249.41 L530.3,249.39 L529.8,249.38 L529.3,249.36 L528.8,249.34 L528.3,249.32 L527.8,249.3 L527.3,249.28 L526.8,249.26 L526.3,249.24 L525.8,249.22 L525.3,249.19 L524.8,249.17 L524.3,249.15 L523.8,249.13 L523.3,249.1 L522.8,249.08 L522.3,249.05 L521.8,249.02 L521.3,249 L520.8,248.97 L520.3,248.94 L519.8,248.91 L519.3,248.88 L518.8,248.85 L518.3,248.82 L517.8,248.79 L517.3,248.76 L516.8,248.72 L516.3,248.69 L515.8,248.66 L515.3,248.62 L514.8,248.58 L514.3,248.54 L513.8,248.51 L513.3,248.47 L512.8,248.43 L512.3,248.39 L511.8,248.34 L511.3,248.3 L510.8,248.26 L510.3,248.21 L509.8,248.17 L509.3,248.12 L508.8,248.07 L508.3,248.03 L507.8,247.98 L507.3,247.93 L506.8,247.88 L506.3,247.83 L505.8,247.78 L505.3,247.73 L504.8,247.67 L504.3,247.62 L503.8,247.57 L503.3,247.51 L502.8,247.46 L502.3,247.41 L501.8,247.35 L501.3,247.3 L500.8,247.24 L500.3,247.19 L499.8,247.13 L499.3,247.08 L498.8,247.02 L498.3,246.97 L497.8,246.91 L497.3,246.86 L496.8,246.8 L496.3,246.75 L495.8,246.7 L495.3,246.64 L494.8,246.59 L494.3,246.54 L493.8,246.49 L493.3,246.44 L492.8,246.39 L492.3,246.34 L491.8,246.29 L491.3,246.24 L490.8,246.2 L490.3,246.15 L489.8,246.1 L489.3,246.06 L488.8,246.02 L488.3,245.97 L487.8,245.93 L487.3,245.89 L486.8,245.85 L486.3,245.81 L485.8,245.77 L485.3,245.73 L484.8,245.7 L484.3,245.66 L483.8,245.62 L483.3,245.59 L482.8,245.56 L482.3,245.52 L481.8,245.49 L481.3,245.46 L480.8,245.43 L480.3,245.4 L479.8,245.37 L479.3,245.34 L478.8,245.32 L478.3,245.29 L477.8,245.26 L477.3,245.24 L476.8,245.21 L476.3,245.19 L475.8,245.16 L475.3,245.14 L474.8,245.12 L474.3,245.1 L473.8,245.07 L473.3,245.05 L472.8,245.03 L472.3,245.01 L471.8,244.99 L471.3,244.97 L470.8,244.95 L470.3,244.94 L469.8,244.92 L469.3,244.9 L468.8,244.88 L468.3,244.87 L467.8,244.85 L467.3,244.83 L466.8,244.82 L466.3,244.8 L465.8,244.78 L465.3,244.77 L464.8,244.75 L464.3,244.74 L463.8,244.72 L463.3,244.71 L462.8,244.7 L462.3,244.68 L461.8,244.67 L461.3,244.65 L460.8,244.64 L460.3,244.63 L459.8,244.61 L459.3,244.6 L458.8,244.59 L458.3,244.57 L457.8,244.56 L457.3,244.55 L456.8,244.54 L456.3,244.52 L455.8,244.51 L455.3,244.5 L454.8,244.49 L454.3,244.48 L453.8,244.47 L453.3,244.45 L452.8,244.44 L452.3,244.43 L451.8,244.42 L451.3,244.41 L450.8,244.4 L450.3,244.38 L449.8,244.37 L449.3,244.36 L448.8,244.35 L448.3,244.34 L447.8,244.33 L447.3,244.32 L446.8,244.31 Z" fill="url(#fr)" stroke="#ff1414" stroke-width="0.75"/><path d="M482.8,245.25 L483.3,245.21 L483.8,245.16 L484.3,245.09 L484.8,245 L485.3,244.88 L485.8,244.74 L486.3,244.57 L486.8,244.36 L487.3,244.12 L487.8,243.83 L488.3,243.49 L488.8,243.1 L489.3,242.65 L489.8,242.13 L490.3,241.55 L490.8,240.9 L491.3,240.17 L491.8,239.37 L492.3,238.48 L492.8,237.52 L493.3,236.47 L493.8,235.35 L494.3,234.14 L494.8,232.87 L495.3,231.53 L495.8,230.13 L496.3,228.68 L496.8,227.19 L497.3,225.68 L497.8,224.16 L498.3,222.63 L498.8,221.13 L499.3,219.67 L499.8,218.26 L500.3,216.92 L500.8,215.67 L501.3,214.53 L501.8,213.51 L502.3,212.63 L502.8,211.9 L503.3,211.33 L503.8,210.93 L504.3,210.71 L504.8,210.67 L505.3,210.82 L505.8,211.14 L506.3,211.65 L506.8,212.32 L507.3,213.15 L507.8,214.14 L508.3,215.26 L508.8,216.5 L509.3,217.85 L509.8,219.29 L510.3,220.8 L510.8,222.37 L511.3,223.97 L511.8,225.59 L512.3,227.21 L512.8,228.82 L513.3,230.4 L513.8,231.94 L514.3,233.43 L514.8,234.86 L515.3,236.22 L515.8,237.51 L516.3,238.72 L516.8,239.85 L517.3,240.9 L517.8,241.87 L518.3,242.75 L518.8,243.56 L519.3,244.29 L519.8,244.94 L520.3,245.53 L520.8,246.05 L521.3,246.51 L521.8,246.92 L522.3,247.28 L522.8,247.59 L523.3,247.86 L523.8,248.09 L524.3,248.3 L524.8,248.47 L525.3,248.62 L525.8,248.75 L526.3,248.86 L526.8,248.95 L526.8,249.26 L526.3,249.24 L525.8,249.22 L525.3,249.19 L524.8,249.17 L524.3,249.15 L523.8,249.13 L523.3,249.1 L522.8,249.08 L522.3,249.05 L521.8,249.02 L521.3,249 L520.8,248.97 L520.3,248.94 L519.8,248.91 L519.3,248.88 L518.8,248.85 L518.3,248.82 L517.8,248.79 L517.3,248.76 L516.8,248.72 L516.3,248.69 L515.8,248.66 L515.3,248.62 L514.8,248.58 L514.3,248.54 L513.8,248.51 L513.3,248.47 L512.8,248.43 L512.3,248.39 L511.8,248.34 L511.3,248.3 L510.8,248.26 L510.3,248.21 L509.8,248.17 L509.3,248.12 L508.8,248.07 L508.3,248.03 L507.8,247.98 L507.3,247.93 L506.8,247.88 L506.3,247.83 L505.8,247.78 L505.3,247.73 L504.8,247.67 L504.3,247.62 L503.8,247.57 L503.3,247.51 L502.8,247.46 L502.3,247.41 L501.8,247.35 L501.3,247.3 L500.8,247.24 L500.3,247.19 L499.8,247.13 L499.3,247.08 L498.8,247.02 L498.3,246.97 L497.8,246.91 L497.3,246.86 L496.8,246.8 L496.3,246.75 L495.8,246.7 L495.3,246.64 L494.8,246.59 L494.3,246.54 L493.8,246.49 L493.3,246.44 L492.8,246.39 L492.3,246.34 L491.8,246.29 L491.3,246.24 L490.8,246.2 L490.3,246.15 L489.8,246.1 L489.3,246.06 L488.8,246.02 L488.3,245.97 L487.8,245.93 L487.3,245.89 L486.8,245.85 L486.3,245.81 L485.8,245.77 L485.3,245.73 L484.8,245.7 L484.3,245.66 L483.8,245.62 L483.3,245.59 L482.8,245.56 Z" fill="url(#fp)" stroke="#9414cc" stroke-width="0.75"/><path d="M397.3,243.21 L397.8,243.21 L398.3,243.2 L398.8,243.2 L399.3,243.19 L399.8,243.18 L400.3,243.17 L400.8,243.16 L401.3,243.14 L401.8,243.12 L402.3,243.1 L402.8,243.07 L403.3,243.04 L403.8,243.01 L404.3,242.97 L404.8,242.93 L405.3,242.88 L405.8,242.83 L406.3,242.77 L406.8,242.71 L407.3,242.64 L407.8,242.56 L408.3,242.48 L408.8,242.38 L409.3,242.28 L409.8,242.18 L410.3,242.06 L410.8,241.94 L411.3,241.8 L411.8,241.66 L412.3,241.5 L412.8,241.34 L413.3,241.16 L413.8,240.98 L414.3,240.78 L414.8,240.57 L415.3,240.36 L415.8,240.13 L416.3,239.88 L416.8,239.63 L417.3,239.37 L417.8,239.09 L418.3,238.8 L418.8,238.51 L419.3,238.2 L419.8,237.88 L420.3,237.55 L420.8,237.22 L421.3,236.87 L421.8,236.52 L422.3,236.16 L422.8,235.8 L423.3,235.43 L423.8,235.05 L424.3,234.68 L424.8,234.3 L425.3,233.92 L425.8,233.54 L426.3,233.17 L426.8,232.79 L427.3,232.43 L427.8,232.06 L428.3,231.71 L428.8,231.36 L429.3,231.03 L429.8,230.7 L430.3,230.39 L430.8,230.09 L431.3,229.81 L431.8,229.54 L432.3,229.29 L432.8,229.06 L433.3,228.85 L433.8,228.66 L434.3,228.49 L434.8,228.34 L435.3,228.22 L435.8,228.12 L436.3,228.04 L436.8,227.98 L437.3,227.95 L437.8,227.94 L438.3,227.96 L438.8,227.99 L439.3,228.05 L439.8,228.13 L440.3,228.24 L440.8,228.36 L441.3,228.5 L441.8,228.66 L442.3,228.84 L442.8,229.03 L443.3,229.24 L443.8,229.46 L444.3,229.69 L444.8,229.93 L445.3,230.18 L445.8,230.44 L446.3,230.7 L446.8,230.96 L447.3,231.23 L447.8,231.5 L448.3,231.76 L448.8,232.02 L449.3,232.28 L449.8,232.53 L450.3,232.77 L450.8,233 L451.3,233.22 L451.8,233.43 L452.3,233.62 L452.8,233.79 L453.3,233.95 L453.8,234.09 L454.3,234.22 L454.8,234.32 L455.3,234.39 L455.8,234.45 L456.3,234.48 L456.8,234.48 L457.3,234.46 L457.8,233.8 L458.3,233.77 L458.8,233.72 L459.3,233.63 L459.8,233.52 L460.3,233.39 L460.8,233.24 L461.3,233.07 L461.8,232.86 L462.3,232.51 L462.8,232.01 L463.3,231.4 L463.8,230.69 L464.3,229.91 L464.8,229.07 L465.3,228.2 L465.8,227.32 L466.3,226.44 L466.8,225.47 L467.3,224.4 L467.8,223.24 L468.3,222.01 L468.8,220.73 L469.3,219.4 L469.8,218.06 L470.3,216.72 L470.8,215.39 L471.3,214.07 L471.8,212.71 L472.3,211.29 L472.8,209.84 L473.3,208.37 L473.8,206.9 L474.3,205.44 L474.8,204.03 L475.3,202.66 L475.8,201.37 L476.3,200.17 L476.8,199.04 L477.3,197.96 L477.8,196.93 L478.3,195.92 L478.8,194.94 L479.3,193.97 L479.8,192.99 L480.3,192.01 L480.8,191.02 L481.3,190.02 L481.8,189.04 L482.3,188.06 L482.8,187.11 L483.3,186.17 L483.8,185.26 L484.3,184.38 L484.8,183.53 L485.3,182.71 L485.8,181.9 L486.3,181.1 L486.8,180.32 L487.3,179.57 L487.8,178.84 L488.3,178.14 L488.8,177.47 L489.3,176.84 L489.8,176.25 L490.3,175.67 L490.8,175.11 L491.3,174.58 L491.8,174.06 L492.3,173.57 L492.8,173.1 L493.3,172.65 L493.8,172.22 L494.3,171.82 L494.8,171.43 L495.3,171.06 L495.8,170.7 L496.3,170.37 L496.8,170.07 L497.3,169.8 L497.8,169.55 L498.3,169.29 L498.8,169.07 L499.3,168.93 L499.8,168.91 L500.3,168.99 L500.8,169.13 L501.3,169.32 L501.8,169.56 L502.3,169.97 L502.8,170.52 L503.3,171.19 L503.8,172.1 L504.3,173.25 L504.8,174.57 L505.3,176.01 L505.8,177.55 L506.3,179.39 L506.8,181.42 L507.3,183.56 L507.8,185.69 L508.3,187.79 L508.8,189.96 L509.3,192.12 L509.8,194.21 L510.3,196.21 L510.8,198.17 L511.3,200.09 L511.8,202 L512.3,203.91 L512.8,205.84 L513.3,207.8 L513.8,209.81 L514.3,211.87 L514.8,213.96 L515.3,216.05 L515.8,218.11 L516.3,220.13 L516.8,222.08 L517.3,223.94 L517.8,225.7 L518.3,227.46 L518.8,229.23 L519.3,230.97 L519.8,232.65 L520.3,234.24 L520.8,235.68 L521.3,236.96 L521.8,238.04 L522.3,238.91 L522.8,239.72 L523.3,240.48 L523.8,241.2 L524.3,241.88 L524.8,242.51 L525.3,243.1 L525.8,243.66 L526.3,244.17 L526.8,244.64 L527.3,245.07 L527.8,245.47 L528.3,245.84 L528.8,246.16 L529.3,246.47 L529.8,246.77 L530.3,247.06 L530.8,247.34 L531.3,247.6 L531.8,247.84 L532.3,248.07 L532.8,248.28 L533.3,248.47 L533.8,248.64 L534.3,248.78 L534.8,248.9 L535.3,249 L535.8,249.08 L536.3,249.16 L536.8,249.24 L537.3,249.32 L537.8,249.39 L538.3,249.46 L538.8,249.52 L539.3,249.58 L539.8,249.64 L540.3,249.69 L540.8,249.74 L541.3,249.78 L541.8,249.81 L542.3,249.84 L542.8,249.87 L543.3,249.89 L543.8,249.9" stroke="#2828e6" stroke-width="1.15" fill="none"/><path d="M397.3,243.3 L397.8,243.31 L398.3,243.32 L398.8,243.33 L399.3,243.34 L399.8,243.35 L400.3,243.36 L400.8,243.37 L401.3,243.38 L401.8,243.39 L402.3,243.4 L402.8,243.41 L403.3,243.42 L403.8,243.43 L404.3,243.44 L404.8,243.45 L405.3,243.46 L405.8,243.47 L406.3,243.48 L406.8,243.49 L407.3,243.5 L407.8,243.51 L408.3,243.52 L408.8,243.53 L409.3,243.54 L409.8,243.55 L410.3,243.56 L410.8,243.57 L411.3,243.58 L411.8,243.59 L412.3,243.6 L412.8,243.61 L413.3,243.62 L413.8,243.63 L414.3,243.64 L414.8,243.65 L415.3,243.66 L415.8,243.67 L416.3,243.68 L416.8,243.69 L417.3,243.7 L417.8,243.71 L418.3,243.72 L418.8,243.73 L419.3,243.74 L419.8,243.75 L420.3,243.76 L420.8,243.77 L421.3,243.78 L421.8,243.79 L422.3,243.8 L422.8,243.81 L423.3,243.82 L423.8,243.83 L424.3,243.84 L424.8,243.85 L425.3,243.86 L425.8,243.87 L426.3,243.88 L426.8,243.89 L427.3,243.9 L427.8,243.91 L428.3,243.92 L428.8,243.93 L429.3,243.94 L429.8,243.95 L430.3,243.96 L430.8,243.97 L431.3,243.98 L431.8,243.99 L432.3,244 L432.8,244.01 L433.3,244.02 L433.8,244.03 L434.3,244.05 L434.8,244.06 L435.3,244.07 L435.8,244.08 L436.3,244.09 L436.8,244.1 L437.3,244.11 L437.8,244.12 L438.3,244.13 L438.8,244.14 L439.3,244.15 L439.8,244.16 L440.3,244.17 L440.8,244.18 L441.3,244.19 L441.8,244.2 L442.3,244.21 L442.8,244.22 L443.3,244.23 L443.8,244.24 L444.3,244.25 L444.8,244.26 L445.3,244.28 L445.8,244.29 L446.3,244.3 L446.8,244.31 L447.3,244.32 L447.8,244.33 L448.3,244.34 L448.8,244.35 L449.3,244.36 L449.8,244.37 L450.3,244.38 L450.8,244.4 L451.3,244.41 L451.8,244.42 L452.3,244.43 L452.8,244.44 L453.3,244.45 L453.8,244.47 L454.3,244.48 L454.8,244.49 L455.3,244.5 L455.8,244.51 L456.3,244.52 L456.8,244.54 L457.3,244.55 L457.8,244.56 L458.3,244.57 L458.8,244.59 L459.3,244.6 L459.8,244.61 L460.3,244.63 L460.8,244.64 L461.3,244.65 L461.8,244.67 L462.3,244.68 L462.8,244.7 L463.3,244.71 L463.8,244.72 L464.3,244.74 L464.8,244.75 L465.3,244.77 L465.8,244.78 L466.3,244.8 L466.8,244.82 L467.3,244.83 L467.8,244.85 L468.3,244.87 L468.8,244.88 L469.3,244.9 L469.8,244.92 L470.3,244.94 L470.8,244.95 L471.3,244.97 L471.8,244.99 L472.3,245.01 L472.8,245.03 L473.3,245.05 L473.8,245.07 L474.3,245.1 L474.8,245.12 L475.3,245.14 L475.8,245.16 L476.3,245.19 L476.8,245.21 L477.3,245.24 L477.8,245.26 L478.3,245.29 L478.8,245.32 L479.3,245.34 L479.8,245.37 L480.3,245.4 L480.8,245.43 L481.3,245.46 L481.8,245.49 L482.3,245.52 L482.8,245.56 L483.3,245.59 L483.8,245.62 L484.3,245.66 L484.8,245.7 L485.3,245.73 L485.8,245.77 L486.3,245.81 L486.8,245.85 L487.3,245.89 L487.8,245.93 L488.3,245.97 L488.8,246.02 L489.3,246.06 L489.8,246.1 L490.3,246.15 L490.8,246.2 L491.3,246.24 L491.8,246.29 L492.3,246.34 L492.8,246.39 L493.3,246.44 L493.8,246.49 L494.3,246.54 L494.8,246.59 L495.3,246.64 L495.8,246.7 L496.3,246.75 L496.8,246.8 L497.3,246.86 L497.8,246.91 L498.3,246.97 L498.8,247.02 L499.3,247.08 L499.8,247.13 L500.3,247.19 L500.8,247.24 L501.3,247.3 L501.8,247.35 L502.3,247.41 L502.8,247.46 L503.3,247.51 L503.8,247.57 L504.3,247.62 L504.8,247.67 L505.3,247.73 L505.8,247.78 L506.3,247.83 L506.8,247.88 L507.3,247.93 L507.8,247.98 L508.3,248.03 L508.8,248.07 L509.3,248.12 L509.8,248.17 L510.3,248.21 L510.8,248.26 L511.3,248.3 L511.8,248.34 L512.3,248.39 L512.8,248.43 L513.3,248.47 L513.8,248.51 L514.3,248.54 L514.8,248.58 L515.3,248.62 L515.8,248.66 L516.3,248.69 L516.8,248.72 L517.3,248.76 L517.8,248.79 L518.3,248.82 L518.8,248.85 L519.3,248.88 L519.8,248.91 L520.3,248.94 L520.8,248.97 L521.3,249 L521.8,249.02 L522.3,249.05 L522.8,249.08 L523.3,249.1 L523.8,249.13 L524.3,249.15 L524.8,249.17 L525.3,249.19 L525.8,249.22 L526.3,249.24 L526.8,249.26 L527.3,249.28 L527.8,249.3 L528.3,249.32 L528.8,249.34 L529.3,249.36 L529.8,249.38 L530.3,249.39 L530.8,249.41 L531.3,249.43 L531.8,249.45 L532.3,249.46 L532.8,249.48 L533.3,249.5 L533.8,249.51 L534.3,249.53 L534.8,249.54 L535.3,249.56 L535.8,249.57 L536.3,249.59 L536.8,249.6 L537.3,249.62 L537.8,249.63 L538.3,249.64 L538.8,249.66 L539.3,249.67 L539.8,249.68 L540.3,249.7 L540.8,249.71 L541.3,249.72 L541.8,249.74 L542.3,249.75 L542.8,249.76 L543.3,249.77 L543.8,249.79" stroke="#b040e0" stroke-width="1.25" fill="none"/><text x="406.6" y="224.3" font-size="6.6" text-anchor="start" fill="#10e010" stroke="#10e010" stroke-width="0.22" >Oxidized-N</text><text x="455.8" y="183.6" font-size="6.6" text-anchor="start" fill="#ff1a1a" stroke="#ff1a1a" stroke-width="0.22" >Graphitic-N</text><text x="507.9" y="207.7" font-size="6.6" text-anchor="start" fill="#9a1ad0" stroke="#9a1ad0" stroke-width="0.22" >Pyridinic-N</text><rect x="397.3" y="156.3" width="147" height="112.3" fill="none" stroke="#3a3a3a" stroke-width="1"/>
</svg></body></html>
